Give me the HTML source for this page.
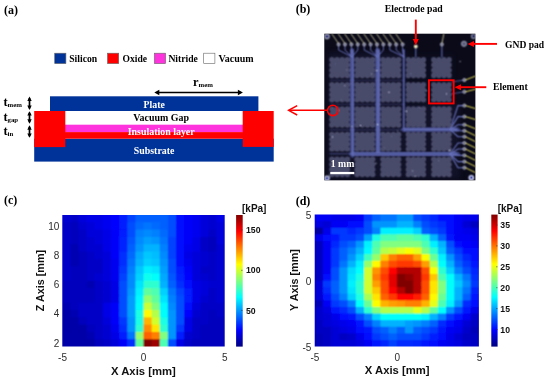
<!DOCTYPE html>
<html><head><meta charset="utf-8"><title>Figure</title>
<style>
html,body{margin:0;padding:0;background:#fff;}
body{width:550px;height:380px;overflow:hidden;}
svg{display:block;}
</style></head><body>
<svg width="550" height="380" viewBox="0 0 550 380">
<defs>
<filter id="hb" x="-5%" y="-5%" width="110%" height="110%"><feConvolveMatrix order="3" kernelMatrix="1 2 1 2 4 2 1 2 1" divisor="16" edgeMode="duplicate" preserveAlpha="true"/></filter>
<clipPath id="pc"><rect x="324.3" y="33.7" width="151.1" height="146.6"/></clipPath>
<filter id="bl" x="-5%" y="-5%" width="110%" height="110%"><feConvolveMatrix order="3" kernelMatrix="1 2 1 2 4 2 1 2 1" divisor="16" edgeMode="none" preserveAlpha="false"/></filter>
<filter id="bl2" x="-5%" y="-5%" width="110%" height="110%"><feGaussianBlur stdDeviation="2.5"/></filter>
<clipPath id="hc1"><rect x="62.30" y="215.00" width="162.40" height="131.60"/></clipPath>
<linearGradient id="cbc" x1="0" y1="0" x2="0" y2="1"><stop offset="0.0000" stop-color="#800000"/><stop offset="0.0312" stop-color="#9f0000"/><stop offset="0.0625" stop-color="#bf0000"/><stop offset="0.0938" stop-color="#df0000"/><stop offset="0.1250" stop-color="#ff0000"/><stop offset="0.1562" stop-color="#ff2000"/><stop offset="0.1875" stop-color="#ff4000"/><stop offset="0.2188" stop-color="#ff6000"/><stop offset="0.2500" stop-color="#ff8000"/><stop offset="0.2812" stop-color="#ff9f00"/><stop offset="0.3125" stop-color="#ffbf00"/><stop offset="0.3438" stop-color="#ffdf00"/><stop offset="0.3750" stop-color="#ffff00"/><stop offset="0.4062" stop-color="#dfff20"/><stop offset="0.4375" stop-color="#bfff40"/><stop offset="0.4688" stop-color="#9fff60"/><stop offset="0.5000" stop-color="#80ff80"/><stop offset="0.5312" stop-color="#60ff9f"/><stop offset="0.5625" stop-color="#40ffbf"/><stop offset="0.5938" stop-color="#20ffdf"/><stop offset="0.6250" stop-color="#00ffff"/><stop offset="0.6562" stop-color="#00dfff"/><stop offset="0.6875" stop-color="#00bfff"/><stop offset="0.7188" stop-color="#009fff"/><stop offset="0.7500" stop-color="#0080ff"/><stop offset="0.7812" stop-color="#0060ff"/><stop offset="0.8125" stop-color="#0040ff"/><stop offset="0.8438" stop-color="#0020ff"/><stop offset="0.8750" stop-color="#0000ff"/><stop offset="0.9062" stop-color="#0000df"/><stop offset="0.9375" stop-color="#0000bf"/><stop offset="0.9688" stop-color="#00009f"/><stop offset="1.0000" stop-color="#000080"/></linearGradient>
<clipPath id="hc2"><rect x="314.70" y="214.50" width="164.20" height="132.10"/></clipPath>
<linearGradient id="cbd" x1="0" y1="0" x2="0" y2="1"><stop offset="0.0000" stop-color="#800000"/><stop offset="0.0312" stop-color="#9f0000"/><stop offset="0.0625" stop-color="#bf0000"/><stop offset="0.0938" stop-color="#df0000"/><stop offset="0.1250" stop-color="#ff0000"/><stop offset="0.1562" stop-color="#ff2000"/><stop offset="0.1875" stop-color="#ff4000"/><stop offset="0.2188" stop-color="#ff6000"/><stop offset="0.2500" stop-color="#ff8000"/><stop offset="0.2812" stop-color="#ff9f00"/><stop offset="0.3125" stop-color="#ffbf00"/><stop offset="0.3438" stop-color="#ffdf00"/><stop offset="0.3750" stop-color="#ffff00"/><stop offset="0.4062" stop-color="#dfff20"/><stop offset="0.4375" stop-color="#bfff40"/><stop offset="0.4688" stop-color="#9fff60"/><stop offset="0.5000" stop-color="#80ff80"/><stop offset="0.5312" stop-color="#60ff9f"/><stop offset="0.5625" stop-color="#40ffbf"/><stop offset="0.5938" stop-color="#20ffdf"/><stop offset="0.6250" stop-color="#00ffff"/><stop offset="0.6562" stop-color="#00dfff"/><stop offset="0.6875" stop-color="#00bfff"/><stop offset="0.7188" stop-color="#009fff"/><stop offset="0.7500" stop-color="#0080ff"/><stop offset="0.7812" stop-color="#0060ff"/><stop offset="0.8125" stop-color="#0040ff"/><stop offset="0.8438" stop-color="#0020ff"/><stop offset="0.8750" stop-color="#0000ff"/><stop offset="0.9062" stop-color="#0000df"/><stop offset="0.9375" stop-color="#0000bf"/><stop offset="0.9688" stop-color="#00009f"/><stop offset="1.0000" stop-color="#000080"/></linearGradient>
</defs>
<rect x="0" y="0" width="550" height="380" fill="#ffffff"/>
<text x="4" y="14.2" style="font-family:'Liberation Serif',serif;font-weight:bold;font-size:12px" fill="#000">(a)</text>
<rect x="54.7" y="53.2" width="11.2" height="10.4" fill="#003399" stroke="#666" stroke-width="0.6"/><text x="69.2" y="61.8" textLength="28.0" lengthAdjust="spacingAndGlyphs" style="font-family:'Liberation Serif',serif;font-weight:bold;font-size:10.6px" fill="#000">Silicon</text>
<rect x="107.5" y="53.2" width="11.2" height="10.4" fill="#ff0000" stroke="#666" stroke-width="0.6"/><text x="122.6" y="61.8" textLength="24.5" lengthAdjust="spacingAndGlyphs" style="font-family:'Liberation Serif',serif;font-weight:bold;font-size:10.6px" fill="#000">Oxide</text>
<rect x="154.4" y="53.2" width="11.2" height="10.4" fill="#ff33dd" stroke="#666" stroke-width="0.6"/><text x="168.4" y="61.8" textLength="29.5" lengthAdjust="spacingAndGlyphs" style="font-family:'Liberation Serif',serif;font-weight:bold;font-size:10.6px" fill="#000">Nitride</text>
<rect x="203.7" y="53.2" width="11.2" height="10.4" fill="#ffffff" stroke="#666" stroke-width="0.6"/><text x="218.4" y="61.8" textLength="35.3" lengthAdjust="spacingAndGlyphs" style="font-family:'Liberation Serif',serif;font-weight:bold;font-size:10.6px" fill="#000">Vacuum</text>
<rect x="34.2" y="138.7" width="239.5" height="22.9" fill="#003399"/>
<rect x="50" y="96.3" width="208.4" height="14.7" fill="#003399"/>
<rect x="65" y="124.7" width="178" height="7.4" fill="#ff33dd"/>
<rect x="65" y="132.1" width="178" height="6.6" fill="#ff0000"/>
<rect x="34.2" y="111" width="31.1" height="36.1" fill="#ff0000"/>
<rect x="242.7" y="111" width="31" height="35.9" fill="#ff0000"/>
<text x="143.6" y="107.5" textLength="21.2" lengthAdjust="spacingAndGlyphs" style="font-family:'Liberation Serif',serif;font-weight:bold;font-size:10.6px" fill="#fff">Plate</text>
<text x="133.3" y="121.3" textLength="55.8" lengthAdjust="spacingAndGlyphs" style="font-family:'Liberation Serif',serif;font-weight:bold;font-size:10.6px" fill="#000">Vacuum Gap</text>
<text x="127.7" y="134.5" textLength="67" lengthAdjust="spacingAndGlyphs" style="font-family:'Liberation Serif',serif;font-weight:bold;font-size:10.6px" fill="#fff">Insulation layer</text>
<text x="133.8" y="153.5" textLength="40.6" lengthAdjust="spacingAndGlyphs" style="font-family:'Liberation Serif',serif;font-weight:bold;font-size:10.6px" fill="#fff">Substrate</text>
<path d="M29.5 98.1 L29.5 108.4" stroke="#000" stroke-width="1.7" fill="none"/><path d="M29.5 96.6 l-2.2 4.4 l4.4 0z" fill="#000"/><path d="M29.5 109.9 l-2.2 -4.4 l4.4 0z" fill="#000"/>
<path d="M29.5 112.7 L29.5 122.2" stroke="#000" stroke-width="1.7" fill="none"/><path d="M29.5 111.2 l-2.2 4.4 l4.4 0z" fill="#000"/><path d="M29.5 123.7 l-2.2 -4.4 l4.4 0z" fill="#000"/>
<path d="M29.5 126.8 L29.5 136.3" stroke="#000" stroke-width="1.7" fill="none"/><path d="M29.5 125.3 l-2.2 4.4 l4.4 0z" fill="#000"/><path d="M29.5 137.8 l-2.2 -4.4 l4.4 0z" fill="#000"/>
<text x="3.4" y="106.3" style="font-family:'Liberation Serif',serif;font-weight:bold;font-size:12.4px" fill="#000">t<tspan dy="1.0" style="font-size:6.8px">mem</tspan></text>
<text x="3.4" y="120.6" style="font-family:'Liberation Serif',serif;font-weight:bold;font-size:12.4px" fill="#000">t<tspan dy="1.0" style="font-size:6.8px">gap</tspan></text>
<text x="3.4" y="135.2" style="font-family:'Liberation Serif',serif;font-weight:bold;font-size:12.4px" fill="#000">t<tspan dy="1.0" style="font-size:6.8px">in</tspan></text>
<path d="M157 92.5 L240.5 92.5" stroke="#000" stroke-width="1.7" fill="none"/>
<path d="M154.3 92.5 l5 -2.7 l0 5.4z" fill="#000"/>
<path d="M242.9 92.5 l-5 -2.7 l0 5.4z" fill="#000"/>
<text x="193.0" y="86.0" style="font-family:'Liberation Serif',serif;font-weight:bold;font-size:12.4px" fill="#000">r<tspan dy="1.0" style="font-size:6.8px">mem</tspan></text>
<text x="295.7" y="13.3" style="font-family:'Liberation Serif',serif;font-weight:bold;font-size:12px" fill="#000">(b)</text>
<rect x="324.3" y="33.7" width="151.1" height="146.6" fill="#0a0a19"/>
<g clip-path="url(#pc)">
<g filter="url(#bl2)" fill="#20244a" opacity="0.32">
<rect x="328" y="52" width="78" height="127"/>
<rect x="404" y="104" width="56" height="75"/>
<rect x="404" y="54" width="50" height="52" opacity="0.35"/>
</g>
<g filter="url(#bl)">
<g stroke="#363d78" fill="none" stroke-linecap="round">
<path d="M352.1 50 L352.4 156" stroke-width="3.8"/>
<path d="M377.7 50 L378 154" stroke-width="4.4"/>
<path d="M403.8 50 L403.8 131" stroke-width="2.4" opacity="0.8"/>
<path d="M403 129.6 L458 129.6" stroke-width="4"/>
<path d="M351 154 L458 154" stroke-width="4"/>
</g>
<g stroke="#6670ba" fill="none" stroke-linecap="round">
<path d="M350.9 50 L351.2 155" stroke-width="0.8"/>
<path d="M352.2 50 L352.5 155" stroke-width="0.8"/>
<path d="M353.4 50 L353.7 155" stroke-width="0.8"/>
<path d="M376.1 50 L376.4 153" stroke-width="0.8"/>
<path d="M377.3 50 L377.6 153" stroke-width="0.8"/>
<path d="M378.4 50 L378.7 153" stroke-width="0.8"/>
<path d="M379.4 50 L379.7 153" stroke-width="0.8"/>
<path d="M403.8 50 L403.8 129" stroke-width="1.0"/>
<path d="M404 128.3 L457 128.3" stroke-width="0.9"/>
<path d="M352 152.7 L457 152.7" stroke-width="0.9"/>
<path d="M404 129.6 L457 129.6" stroke-width="0.9"/>
<path d="M352 154.0 L457 154.0" stroke-width="0.9"/>
<path d="M404 130.9 L457 130.9" stroke-width="0.9"/>
<path d="M352 155.3 L457 155.3" stroke-width="0.9"/>
<path d="M330 104.3 L404 104.3" stroke-width="1.2" opacity="0.25"/>
<path d="M330 80.3 L404 80.3" stroke-width="1.2" opacity="0.25"/>
<path d="M330 129.9 L404 129.9" stroke-width="1.4" opacity="0.35"/>
<path d="M330 153.8 L352 153.8" stroke-width="1.4" opacity="0.4"/>
<path d="M415.8 47 L415.8 57" stroke-width="1"/>
<path d="M441.9 46 L441.9 57" stroke-width="1"/>
<path d="M452 82.0 L464 80.0" stroke-width="0.9" opacity="0.8"/>
<path d="M452 93.8 L464 91.8" stroke-width="0.9" opacity="0.8"/>
<path d="M450 129.6 L458 105.6 L464 105.6" stroke-width="1.1"/>
<path d="M450 129.6 L458 116.6 L464 116.6" stroke-width="1.1"/>
<path d="M450 129.6 L458 124.8 L464 124.8" stroke-width="1.1"/>
<path d="M450 129.6 L458 130.8 L464 130.8" stroke-width="1.1"/>
<path d="M450 129.6 L458 136.7 L464 136.7" stroke-width="1.1"/>
<path d="M450 154 L458 143.0 L464 143.0" stroke-width="1.1"/>
<path d="M450 154 L458 149.0 L464 149.0" stroke-width="1.1"/>
<path d="M450 154 L458 155.4 L464 155.4" stroke-width="1.1"/>
<path d="M450 154 L458 161.6 L464 161.6" stroke-width="1.1"/>
<path d="M450 154 L458 167.7 L464 167.7" stroke-width="1.1"/>
<path d="M338.6 45 L338.6 50 L352.0 57" stroke-width="0.9"/>
<path d="M345.0 45 L345.0 50 L352.0 57" stroke-width="0.9"/>
<path d="M351.4 45 L351.4 50 L352.0 57" stroke-width="0.9"/>
<path d="M357.8 45 L357.8 50 L352.0 57" stroke-width="0.9"/>
<path d="M364.2 45 L364.2 50 L377.5 57" stroke-width="0.9"/>
<path d="M370.6 45 L370.6 50 L377.5 57" stroke-width="0.9"/>
<path d="M377.0 45 L377.0 50 L377.5 57" stroke-width="0.9"/>
<path d="M383.4 45 L383.4 50 L377.5 57" stroke-width="0.9"/>
<path d="M389.8 45 L389.8 50 L404.0 57" stroke-width="0.9"/>
<path d="M396.2 45 L396.2 50 L404.0 57" stroke-width="0.9"/>
<path d="M402.6 45 L402.6 50 L404.0 57" stroke-width="0.9"/>
</g>
<g fill="#494b6b"><rect x="331.0" y="58.9" width="17.3" height="17.4"/><ellipse cx="331.9" cy="59.8" rx="2.8" ry="2.8"/><ellipse cx="331.9" cy="65.0" rx="2.8" ry="2.8"/><ellipse cx="331.9" cy="70.2" rx="2.8" ry="2.8"/><ellipse cx="331.9" cy="75.4" rx="2.8" ry="2.8"/><ellipse cx="337.1" cy="59.8" rx="2.8" ry="2.8"/><ellipse cx="337.1" cy="75.4" rx="2.8" ry="2.8"/><ellipse cx="342.2" cy="59.8" rx="2.8" ry="2.8"/><ellipse cx="342.2" cy="75.4" rx="2.8" ry="2.8"/><ellipse cx="347.4" cy="59.8" rx="2.8" ry="2.8"/><ellipse cx="347.4" cy="65.0" rx="2.8" ry="2.8"/><ellipse cx="347.4" cy="70.2" rx="2.8" ry="2.8"/><ellipse cx="347.4" cy="75.4" rx="2.8" ry="2.8"/></g>
<g fill="#494b6b"><rect x="356.2" y="58.9" width="17.4" height="17.4"/><ellipse cx="357.1" cy="59.8" rx="2.8" ry="2.8"/><ellipse cx="357.1" cy="65.0" rx="2.8" ry="2.8"/><ellipse cx="357.1" cy="70.2" rx="2.8" ry="2.8"/><ellipse cx="357.1" cy="75.4" rx="2.8" ry="2.8"/><ellipse cx="362.3" cy="59.8" rx="2.8" ry="2.8"/><ellipse cx="362.3" cy="75.4" rx="2.8" ry="2.8"/><ellipse cx="367.5" cy="59.8" rx="2.8" ry="2.8"/><ellipse cx="367.5" cy="75.4" rx="2.8" ry="2.8"/><ellipse cx="372.7" cy="59.8" rx="2.8" ry="2.8"/><ellipse cx="372.7" cy="65.0" rx="2.8" ry="2.8"/><ellipse cx="372.7" cy="70.2" rx="2.8" ry="2.8"/><ellipse cx="372.7" cy="75.4" rx="2.8" ry="2.8"/></g>
<g fill="#494b6b"><rect x="382.1" y="58.9" width="17.4" height="17.4"/><ellipse cx="383.0" cy="59.8" rx="2.8" ry="2.8"/><ellipse cx="383.0" cy="65.0" rx="2.8" ry="2.8"/><ellipse cx="383.0" cy="70.2" rx="2.8" ry="2.8"/><ellipse cx="383.0" cy="75.4" rx="2.8" ry="2.8"/><ellipse cx="388.2" cy="59.8" rx="2.8" ry="2.8"/><ellipse cx="388.2" cy="75.4" rx="2.8" ry="2.8"/><ellipse cx="393.4" cy="59.8" rx="2.8" ry="2.8"/><ellipse cx="393.4" cy="75.4" rx="2.8" ry="2.8"/><ellipse cx="398.6" cy="59.8" rx="2.8" ry="2.8"/><ellipse cx="398.6" cy="65.0" rx="2.8" ry="2.8"/><ellipse cx="398.6" cy="70.2" rx="2.8" ry="2.8"/><ellipse cx="398.6" cy="75.4" rx="2.8" ry="2.8"/></g>
<g fill="#494b6b"><rect x="407.5" y="58.9" width="16.8" height="17.4"/><ellipse cx="408.3" cy="59.8" rx="2.7" ry="2.8"/><ellipse cx="408.3" cy="65.0" rx="2.7" ry="2.8"/><ellipse cx="408.3" cy="70.2" rx="2.7" ry="2.8"/><ellipse cx="408.3" cy="75.4" rx="2.7" ry="2.8"/><ellipse cx="413.4" cy="59.8" rx="2.7" ry="2.8"/><ellipse cx="413.4" cy="75.4" rx="2.7" ry="2.8"/><ellipse cx="418.4" cy="59.8" rx="2.7" ry="2.8"/><ellipse cx="418.4" cy="75.4" rx="2.7" ry="2.8"/><ellipse cx="423.5" cy="59.8" rx="2.7" ry="2.8"/><ellipse cx="423.5" cy="65.0" rx="2.7" ry="2.8"/><ellipse cx="423.5" cy="70.2" rx="2.7" ry="2.8"/><ellipse cx="423.5" cy="75.4" rx="2.7" ry="2.8"/></g>
<g fill="#494b6b"><rect x="433.0" y="58.9" width="16.9" height="17.4"/><ellipse cx="433.8" cy="59.8" rx="2.7" ry="2.8"/><ellipse cx="433.8" cy="65.0" rx="2.7" ry="2.8"/><ellipse cx="433.8" cy="70.2" rx="2.7" ry="2.8"/><ellipse cx="433.8" cy="75.4" rx="2.7" ry="2.8"/><ellipse cx="438.9" cy="59.8" rx="2.7" ry="2.8"/><ellipse cx="438.9" cy="75.4" rx="2.7" ry="2.8"/><ellipse cx="444.0" cy="59.8" rx="2.7" ry="2.8"/><ellipse cx="444.0" cy="75.4" rx="2.7" ry="2.8"/><ellipse cx="449.1" cy="59.8" rx="2.7" ry="2.8"/><ellipse cx="449.1" cy="65.0" rx="2.7" ry="2.8"/><ellipse cx="449.1" cy="70.2" rx="2.7" ry="2.8"/><ellipse cx="449.1" cy="75.4" rx="2.7" ry="2.8"/></g>
<g fill="#494b6b"><rect x="331.0" y="84.0" width="17.3" height="16.5"/><ellipse cx="331.9" cy="84.8" rx="2.8" ry="2.7"/><ellipse cx="331.9" cy="89.8" rx="2.8" ry="2.7"/><ellipse cx="331.9" cy="94.7" rx="2.8" ry="2.7"/><ellipse cx="331.9" cy="99.7" rx="2.8" ry="2.7"/><ellipse cx="337.1" cy="84.8" rx="2.8" ry="2.7"/><ellipse cx="337.1" cy="99.7" rx="2.8" ry="2.7"/><ellipse cx="342.2" cy="84.8" rx="2.8" ry="2.7"/><ellipse cx="342.2" cy="99.7" rx="2.8" ry="2.7"/><ellipse cx="347.4" cy="84.8" rx="2.8" ry="2.7"/><ellipse cx="347.4" cy="89.8" rx="2.8" ry="2.7"/><ellipse cx="347.4" cy="94.7" rx="2.8" ry="2.7"/><ellipse cx="347.4" cy="99.7" rx="2.8" ry="2.7"/></g>
<g fill="#494b6b"><rect x="356.2" y="84.0" width="17.4" height="16.5"/><ellipse cx="357.1" cy="84.8" rx="2.8" ry="2.7"/><ellipse cx="357.1" cy="89.8" rx="2.8" ry="2.7"/><ellipse cx="357.1" cy="94.7" rx="2.8" ry="2.7"/><ellipse cx="357.1" cy="99.7" rx="2.8" ry="2.7"/><ellipse cx="362.3" cy="84.8" rx="2.8" ry="2.7"/><ellipse cx="362.3" cy="99.7" rx="2.8" ry="2.7"/><ellipse cx="367.5" cy="84.8" rx="2.8" ry="2.7"/><ellipse cx="367.5" cy="99.7" rx="2.8" ry="2.7"/><ellipse cx="372.7" cy="84.8" rx="2.8" ry="2.7"/><ellipse cx="372.7" cy="89.8" rx="2.8" ry="2.7"/><ellipse cx="372.7" cy="94.7" rx="2.8" ry="2.7"/><ellipse cx="372.7" cy="99.7" rx="2.8" ry="2.7"/></g>
<g fill="#494b6b"><rect x="382.1" y="84.0" width="17.4" height="16.5"/><ellipse cx="383.0" cy="84.8" rx="2.8" ry="2.7"/><ellipse cx="383.0" cy="89.8" rx="2.8" ry="2.7"/><ellipse cx="383.0" cy="94.7" rx="2.8" ry="2.7"/><ellipse cx="383.0" cy="99.7" rx="2.8" ry="2.7"/><ellipse cx="388.2" cy="84.8" rx="2.8" ry="2.7"/><ellipse cx="388.2" cy="99.7" rx="2.8" ry="2.7"/><ellipse cx="393.4" cy="84.8" rx="2.8" ry="2.7"/><ellipse cx="393.4" cy="99.7" rx="2.8" ry="2.7"/><ellipse cx="398.6" cy="84.8" rx="2.8" ry="2.7"/><ellipse cx="398.6" cy="89.8" rx="2.8" ry="2.7"/><ellipse cx="398.6" cy="94.7" rx="2.8" ry="2.7"/><ellipse cx="398.6" cy="99.7" rx="2.8" ry="2.7"/></g>
<g fill="#494b6b"><rect x="407.5" y="84.0" width="16.8" height="16.5"/><ellipse cx="408.3" cy="84.8" rx="2.7" ry="2.7"/><ellipse cx="408.3" cy="89.8" rx="2.7" ry="2.7"/><ellipse cx="408.3" cy="94.7" rx="2.7" ry="2.7"/><ellipse cx="408.3" cy="99.7" rx="2.7" ry="2.7"/><ellipse cx="413.4" cy="84.8" rx="2.7" ry="2.7"/><ellipse cx="413.4" cy="99.7" rx="2.7" ry="2.7"/><ellipse cx="418.4" cy="84.8" rx="2.7" ry="2.7"/><ellipse cx="418.4" cy="99.7" rx="2.7" ry="2.7"/><ellipse cx="423.5" cy="84.8" rx="2.7" ry="2.7"/><ellipse cx="423.5" cy="89.8" rx="2.7" ry="2.7"/><ellipse cx="423.5" cy="94.7" rx="2.7" ry="2.7"/><ellipse cx="423.5" cy="99.7" rx="2.7" ry="2.7"/></g>
<g fill="#494b6b"><rect x="433.0" y="84.0" width="16.9" height="16.5"/><ellipse cx="433.8" cy="84.8" rx="2.7" ry="2.7"/><ellipse cx="433.8" cy="89.8" rx="2.7" ry="2.7"/><ellipse cx="433.8" cy="94.7" rx="2.7" ry="2.7"/><ellipse cx="433.8" cy="99.7" rx="2.7" ry="2.7"/><ellipse cx="438.9" cy="84.8" rx="2.7" ry="2.7"/><ellipse cx="438.9" cy="99.7" rx="2.7" ry="2.7"/><ellipse cx="444.0" cy="84.8" rx="2.7" ry="2.7"/><ellipse cx="444.0" cy="99.7" rx="2.7" ry="2.7"/><ellipse cx="449.1" cy="84.8" rx="2.7" ry="2.7"/><ellipse cx="449.1" cy="89.8" rx="2.7" ry="2.7"/><ellipse cx="449.1" cy="94.7" rx="2.7" ry="2.7"/><ellipse cx="449.1" cy="99.7" rx="2.7" ry="2.7"/></g>
<g fill="#494b6b"><rect x="331.0" y="108.2" width="17.3" height="17.6"/><ellipse cx="331.9" cy="109.1" rx="2.8" ry="2.8"/><ellipse cx="331.9" cy="114.4" rx="2.8" ry="2.8"/><ellipse cx="331.9" cy="119.6" rx="2.8" ry="2.8"/><ellipse cx="331.9" cy="124.9" rx="2.8" ry="2.8"/><ellipse cx="337.1" cy="109.1" rx="2.8" ry="2.8"/><ellipse cx="337.1" cy="124.9" rx="2.8" ry="2.8"/><ellipse cx="342.2" cy="109.1" rx="2.8" ry="2.8"/><ellipse cx="342.2" cy="124.9" rx="2.8" ry="2.8"/><ellipse cx="347.4" cy="109.1" rx="2.8" ry="2.8"/><ellipse cx="347.4" cy="114.4" rx="2.8" ry="2.8"/><ellipse cx="347.4" cy="119.6" rx="2.8" ry="2.8"/><ellipse cx="347.4" cy="124.9" rx="2.8" ry="2.8"/></g>
<g fill="#494b6b"><rect x="356.2" y="108.2" width="17.4" height="17.6"/><ellipse cx="357.1" cy="109.1" rx="2.8" ry="2.8"/><ellipse cx="357.1" cy="114.4" rx="2.8" ry="2.8"/><ellipse cx="357.1" cy="119.6" rx="2.8" ry="2.8"/><ellipse cx="357.1" cy="124.9" rx="2.8" ry="2.8"/><ellipse cx="362.3" cy="109.1" rx="2.8" ry="2.8"/><ellipse cx="362.3" cy="124.9" rx="2.8" ry="2.8"/><ellipse cx="367.5" cy="109.1" rx="2.8" ry="2.8"/><ellipse cx="367.5" cy="124.9" rx="2.8" ry="2.8"/><ellipse cx="372.7" cy="109.1" rx="2.8" ry="2.8"/><ellipse cx="372.7" cy="114.4" rx="2.8" ry="2.8"/><ellipse cx="372.7" cy="119.6" rx="2.8" ry="2.8"/><ellipse cx="372.7" cy="124.9" rx="2.8" ry="2.8"/></g>
<g fill="#494b6b"><rect x="382.1" y="108.2" width="17.4" height="17.6"/><ellipse cx="383.0" cy="109.1" rx="2.8" ry="2.8"/><ellipse cx="383.0" cy="114.4" rx="2.8" ry="2.8"/><ellipse cx="383.0" cy="119.6" rx="2.8" ry="2.8"/><ellipse cx="383.0" cy="124.9" rx="2.8" ry="2.8"/><ellipse cx="388.2" cy="109.1" rx="2.8" ry="2.8"/><ellipse cx="388.2" cy="124.9" rx="2.8" ry="2.8"/><ellipse cx="393.4" cy="109.1" rx="2.8" ry="2.8"/><ellipse cx="393.4" cy="124.9" rx="2.8" ry="2.8"/><ellipse cx="398.6" cy="109.1" rx="2.8" ry="2.8"/><ellipse cx="398.6" cy="114.4" rx="2.8" ry="2.8"/><ellipse cx="398.6" cy="119.6" rx="2.8" ry="2.8"/><ellipse cx="398.6" cy="124.9" rx="2.8" ry="2.8"/></g>
<g fill="#494b6b"><rect x="407.5" y="108.2" width="16.8" height="17.6"/><ellipse cx="408.3" cy="109.1" rx="2.7" ry="2.8"/><ellipse cx="408.3" cy="114.4" rx="2.7" ry="2.8"/><ellipse cx="408.3" cy="119.6" rx="2.7" ry="2.8"/><ellipse cx="408.3" cy="124.9" rx="2.7" ry="2.8"/><ellipse cx="413.4" cy="109.1" rx="2.7" ry="2.8"/><ellipse cx="413.4" cy="124.9" rx="2.7" ry="2.8"/><ellipse cx="418.4" cy="109.1" rx="2.7" ry="2.8"/><ellipse cx="418.4" cy="124.9" rx="2.7" ry="2.8"/><ellipse cx="423.5" cy="109.1" rx="2.7" ry="2.8"/><ellipse cx="423.5" cy="114.4" rx="2.7" ry="2.8"/><ellipse cx="423.5" cy="119.6" rx="2.7" ry="2.8"/><ellipse cx="423.5" cy="124.9" rx="2.7" ry="2.8"/></g>
<g fill="#494b6b"><rect x="433.0" y="108.2" width="16.9" height="17.6"/><ellipse cx="433.8" cy="109.1" rx="2.7" ry="2.8"/><ellipse cx="433.8" cy="114.4" rx="2.7" ry="2.8"/><ellipse cx="433.8" cy="119.6" rx="2.7" ry="2.8"/><ellipse cx="433.8" cy="124.9" rx="2.7" ry="2.8"/><ellipse cx="438.9" cy="109.1" rx="2.7" ry="2.8"/><ellipse cx="438.9" cy="124.9" rx="2.7" ry="2.8"/><ellipse cx="444.0" cy="109.1" rx="2.7" ry="2.8"/><ellipse cx="444.0" cy="124.9" rx="2.7" ry="2.8"/><ellipse cx="449.1" cy="109.1" rx="2.7" ry="2.8"/><ellipse cx="449.1" cy="114.4" rx="2.7" ry="2.8"/><ellipse cx="449.1" cy="119.6" rx="2.7" ry="2.8"/><ellipse cx="449.1" cy="124.9" rx="2.7" ry="2.8"/></g>
<g fill="#494b6b"><rect x="331.0" y="133.7" width="17.3" height="16.0"/><ellipse cx="331.9" cy="134.4" rx="2.8" ry="2.6"/><ellipse cx="331.9" cy="139.3" rx="2.8" ry="2.6"/><ellipse cx="331.9" cy="144.1" rx="2.8" ry="2.6"/><ellipse cx="331.9" cy="149.0" rx="2.8" ry="2.6"/><ellipse cx="337.1" cy="134.4" rx="2.8" ry="2.6"/><ellipse cx="337.1" cy="149.0" rx="2.8" ry="2.6"/><ellipse cx="342.2" cy="134.4" rx="2.8" ry="2.6"/><ellipse cx="342.2" cy="149.0" rx="2.8" ry="2.6"/><ellipse cx="347.4" cy="134.4" rx="2.8" ry="2.6"/><ellipse cx="347.4" cy="139.3" rx="2.8" ry="2.6"/><ellipse cx="347.4" cy="144.1" rx="2.8" ry="2.6"/><ellipse cx="347.4" cy="149.0" rx="2.8" ry="2.6"/></g>
<g fill="#494b6b"><rect x="356.2" y="133.7" width="17.4" height="16.0"/><ellipse cx="357.1" cy="134.4" rx="2.8" ry="2.6"/><ellipse cx="357.1" cy="139.3" rx="2.8" ry="2.6"/><ellipse cx="357.1" cy="144.1" rx="2.8" ry="2.6"/><ellipse cx="357.1" cy="149.0" rx="2.8" ry="2.6"/><ellipse cx="362.3" cy="134.4" rx="2.8" ry="2.6"/><ellipse cx="362.3" cy="149.0" rx="2.8" ry="2.6"/><ellipse cx="367.5" cy="134.4" rx="2.8" ry="2.6"/><ellipse cx="367.5" cy="149.0" rx="2.8" ry="2.6"/><ellipse cx="372.7" cy="134.4" rx="2.8" ry="2.6"/><ellipse cx="372.7" cy="139.3" rx="2.8" ry="2.6"/><ellipse cx="372.7" cy="144.1" rx="2.8" ry="2.6"/><ellipse cx="372.7" cy="149.0" rx="2.8" ry="2.6"/></g>
<g fill="#494b6b"><rect x="382.1" y="133.7" width="17.4" height="16.0"/><ellipse cx="383.0" cy="134.4" rx="2.8" ry="2.6"/><ellipse cx="383.0" cy="139.3" rx="2.8" ry="2.6"/><ellipse cx="383.0" cy="144.1" rx="2.8" ry="2.6"/><ellipse cx="383.0" cy="149.0" rx="2.8" ry="2.6"/><ellipse cx="388.2" cy="134.4" rx="2.8" ry="2.6"/><ellipse cx="388.2" cy="149.0" rx="2.8" ry="2.6"/><ellipse cx="393.4" cy="134.4" rx="2.8" ry="2.6"/><ellipse cx="393.4" cy="149.0" rx="2.8" ry="2.6"/><ellipse cx="398.6" cy="134.4" rx="2.8" ry="2.6"/><ellipse cx="398.6" cy="139.3" rx="2.8" ry="2.6"/><ellipse cx="398.6" cy="144.1" rx="2.8" ry="2.6"/><ellipse cx="398.6" cy="149.0" rx="2.8" ry="2.6"/></g>
<g fill="#494b6b"><rect x="407.5" y="133.7" width="16.8" height="16.0"/><ellipse cx="408.3" cy="134.4" rx="2.7" ry="2.6"/><ellipse cx="408.3" cy="139.3" rx="2.7" ry="2.6"/><ellipse cx="408.3" cy="144.1" rx="2.7" ry="2.6"/><ellipse cx="408.3" cy="149.0" rx="2.7" ry="2.6"/><ellipse cx="413.4" cy="134.4" rx="2.7" ry="2.6"/><ellipse cx="413.4" cy="149.0" rx="2.7" ry="2.6"/><ellipse cx="418.4" cy="134.4" rx="2.7" ry="2.6"/><ellipse cx="418.4" cy="149.0" rx="2.7" ry="2.6"/><ellipse cx="423.5" cy="134.4" rx="2.7" ry="2.6"/><ellipse cx="423.5" cy="139.3" rx="2.7" ry="2.6"/><ellipse cx="423.5" cy="144.1" rx="2.7" ry="2.6"/><ellipse cx="423.5" cy="149.0" rx="2.7" ry="2.6"/></g>
<g fill="#494b6b"><rect x="433.0" y="133.7" width="16.9" height="16.0"/><ellipse cx="433.8" cy="134.4" rx="2.7" ry="2.6"/><ellipse cx="433.8" cy="139.3" rx="2.7" ry="2.6"/><ellipse cx="433.8" cy="144.1" rx="2.7" ry="2.6"/><ellipse cx="433.8" cy="149.0" rx="2.7" ry="2.6"/><ellipse cx="438.9" cy="134.4" rx="2.7" ry="2.6"/><ellipse cx="438.9" cy="149.0" rx="2.7" ry="2.6"/><ellipse cx="444.0" cy="134.4" rx="2.7" ry="2.6"/><ellipse cx="444.0" cy="149.0" rx="2.7" ry="2.6"/><ellipse cx="449.1" cy="134.4" rx="2.7" ry="2.6"/><ellipse cx="449.1" cy="139.3" rx="2.7" ry="2.6"/><ellipse cx="449.1" cy="144.1" rx="2.7" ry="2.6"/><ellipse cx="449.1" cy="149.0" rx="2.7" ry="2.6"/></g>
<g fill="#494b6b"><rect x="331.0" y="158.5" width="17.3" height="16.8"/><ellipse cx="331.9" cy="159.3" rx="2.8" ry="2.7"/><ellipse cx="331.9" cy="164.4" rx="2.8" ry="2.7"/><ellipse cx="331.9" cy="169.4" rx="2.8" ry="2.7"/><ellipse cx="331.9" cy="174.5" rx="2.8" ry="2.7"/><ellipse cx="337.1" cy="159.3" rx="2.8" ry="2.7"/><ellipse cx="337.1" cy="174.5" rx="2.8" ry="2.7"/><ellipse cx="342.2" cy="159.3" rx="2.8" ry="2.7"/><ellipse cx="342.2" cy="174.5" rx="2.8" ry="2.7"/><ellipse cx="347.4" cy="159.3" rx="2.8" ry="2.7"/><ellipse cx="347.4" cy="164.4" rx="2.8" ry="2.7"/><ellipse cx="347.4" cy="169.4" rx="2.8" ry="2.7"/><ellipse cx="347.4" cy="174.5" rx="2.8" ry="2.7"/></g>
<g fill="#494b6b"><rect x="356.2" y="158.5" width="17.4" height="16.8"/><ellipse cx="357.1" cy="159.3" rx="2.8" ry="2.7"/><ellipse cx="357.1" cy="164.4" rx="2.8" ry="2.7"/><ellipse cx="357.1" cy="169.4" rx="2.8" ry="2.7"/><ellipse cx="357.1" cy="174.5" rx="2.8" ry="2.7"/><ellipse cx="362.3" cy="159.3" rx="2.8" ry="2.7"/><ellipse cx="362.3" cy="174.5" rx="2.8" ry="2.7"/><ellipse cx="367.5" cy="159.3" rx="2.8" ry="2.7"/><ellipse cx="367.5" cy="174.5" rx="2.8" ry="2.7"/><ellipse cx="372.7" cy="159.3" rx="2.8" ry="2.7"/><ellipse cx="372.7" cy="164.4" rx="2.8" ry="2.7"/><ellipse cx="372.7" cy="169.4" rx="2.8" ry="2.7"/><ellipse cx="372.7" cy="174.5" rx="2.8" ry="2.7"/></g>
<g fill="#494b6b"><rect x="382.1" y="158.5" width="17.4" height="16.8"/><ellipse cx="383.0" cy="159.3" rx="2.8" ry="2.7"/><ellipse cx="383.0" cy="164.4" rx="2.8" ry="2.7"/><ellipse cx="383.0" cy="169.4" rx="2.8" ry="2.7"/><ellipse cx="383.0" cy="174.5" rx="2.8" ry="2.7"/><ellipse cx="388.2" cy="159.3" rx="2.8" ry="2.7"/><ellipse cx="388.2" cy="174.5" rx="2.8" ry="2.7"/><ellipse cx="393.4" cy="159.3" rx="2.8" ry="2.7"/><ellipse cx="393.4" cy="174.5" rx="2.8" ry="2.7"/><ellipse cx="398.6" cy="159.3" rx="2.8" ry="2.7"/><ellipse cx="398.6" cy="164.4" rx="2.8" ry="2.7"/><ellipse cx="398.6" cy="169.4" rx="2.8" ry="2.7"/><ellipse cx="398.6" cy="174.5" rx="2.8" ry="2.7"/></g>
<g fill="#494b6b"><rect x="407.5" y="158.5" width="16.8" height="16.8"/><ellipse cx="408.3" cy="159.3" rx="2.7" ry="2.7"/><ellipse cx="408.3" cy="164.4" rx="2.7" ry="2.7"/><ellipse cx="408.3" cy="169.4" rx="2.7" ry="2.7"/><ellipse cx="408.3" cy="174.5" rx="2.7" ry="2.7"/><ellipse cx="413.4" cy="159.3" rx="2.7" ry="2.7"/><ellipse cx="413.4" cy="174.5" rx="2.7" ry="2.7"/><ellipse cx="418.4" cy="159.3" rx="2.7" ry="2.7"/><ellipse cx="418.4" cy="174.5" rx="2.7" ry="2.7"/><ellipse cx="423.5" cy="159.3" rx="2.7" ry="2.7"/><ellipse cx="423.5" cy="164.4" rx="2.7" ry="2.7"/><ellipse cx="423.5" cy="169.4" rx="2.7" ry="2.7"/><ellipse cx="423.5" cy="174.5" rx="2.7" ry="2.7"/></g>
<g fill="#494b6b"><rect x="433.0" y="158.5" width="16.9" height="16.8"/><ellipse cx="433.8" cy="159.3" rx="2.7" ry="2.7"/><ellipse cx="433.8" cy="164.4" rx="2.7" ry="2.7"/><ellipse cx="433.8" cy="169.4" rx="2.7" ry="2.7"/><ellipse cx="433.8" cy="174.5" rx="2.7" ry="2.7"/><ellipse cx="438.9" cy="159.3" rx="2.7" ry="2.7"/><ellipse cx="438.9" cy="174.5" rx="2.7" ry="2.7"/><ellipse cx="444.0" cy="159.3" rx="2.7" ry="2.7"/><ellipse cx="444.0" cy="174.5" rx="2.7" ry="2.7"/><ellipse cx="449.1" cy="159.3" rx="2.7" ry="2.7"/><ellipse cx="449.1" cy="164.4" rx="2.7" ry="2.7"/><ellipse cx="449.1" cy="169.4" rx="2.7" ry="2.7"/><ellipse cx="449.1" cy="174.5" rx="2.7" ry="2.7"/></g>
<circle cx="338.6" cy="44.4" r="1.5" fill="#55587a" stroke="#b4b6cc" stroke-width="1"/>
<circle cx="345.0" cy="44.4" r="1.5" fill="#55587a" stroke="#b4b6cc" stroke-width="1"/>
<circle cx="351.4" cy="44.4" r="1.5" fill="#55587a" stroke="#b4b6cc" stroke-width="1"/>
<circle cx="357.8" cy="44.4" r="1.5" fill="#55587a" stroke="#b4b6cc" stroke-width="1"/>
<circle cx="364.2" cy="44.4" r="1.5" fill="#55587a" stroke="#b4b6cc" stroke-width="1"/>
<circle cx="370.6" cy="44.4" r="1.5" fill="#55587a" stroke="#b4b6cc" stroke-width="1"/>
<circle cx="377.0" cy="44.4" r="1.5" fill="#55587a" stroke="#b4b6cc" stroke-width="1"/>
<circle cx="383.4" cy="44.4" r="1.5" fill="#55587a" stroke="#b4b6cc" stroke-width="1"/>
<circle cx="389.8" cy="44.4" r="1.5" fill="#55587a" stroke="#b4b6cc" stroke-width="1"/>
<circle cx="396.2" cy="44.4" r="1.5" fill="#55587a" stroke="#b4b6cc" stroke-width="1"/>
<circle cx="402.6" cy="44.4" r="1.5" fill="#55587a" stroke="#b4b6cc" stroke-width="1"/>
<circle cx="441.9" cy="44.4" r="1.5" fill="#55587a" stroke="#b4b6cc" stroke-width="1"/>
<circle cx="415.8" cy="46.4" r="1.9" fill="#e8e4c0"/>
<path d="M338.6 43.6 L331.6 33.5" stroke="#d8d49c" stroke-width="0.8" fill="none"/>
<path d="M345.0 43.6 L338.0 33.5" stroke="#d8d49c" stroke-width="0.8" fill="none"/>
<path d="M351.4 43.6 L344.4 33.5" stroke="#d8d49c" stroke-width="0.8" fill="none"/>
<path d="M357.8 43.6 L350.8 33.5" stroke="#d8d49c" stroke-width="0.8" fill="none"/>
<path d="M364.2 43.6 L357.2 33.5" stroke="#d8d49c" stroke-width="0.8" fill="none"/>
<path d="M370.6 43.6 L363.6 33.5" stroke="#d8d49c" stroke-width="0.8" fill="none"/>
<path d="M377.0 43.6 L370.0 33.5" stroke="#d8d49c" stroke-width="0.8" fill="none"/>
<path d="M383.4 43.6 L376.4 33.5" stroke="#d8d49c" stroke-width="0.8" fill="none"/>
<path d="M389.8 43.6 L382.8 33.5" stroke="#d8d49c" stroke-width="0.8" fill="none"/>
<path d="M396.2 43.6 L389.2 33.5" stroke="#d8d49c" stroke-width="0.8" fill="none"/>
<path d="M402.6 43.6 L395.6 33.5" stroke="#d8d49c" stroke-width="0.8" fill="none"/>
<path d="M441.9 43.5 L443.9 33.5" stroke="#d8d49c" stroke-width="0.8"/>
<circle cx="464.4" cy="80.0" r="1.5" fill="#55587a" stroke="#b4b6cc" stroke-width="1"/>
<path d="M465.4 80.0 L475.6 76.0" stroke="#dcd650" stroke-width="1.0"/>
<circle cx="464.4" cy="91.8" r="1.5" fill="#55587a" stroke="#b4b6cc" stroke-width="1"/>
<path d="M465.4 91.8 L475.6 89.2" stroke="#dcd650" stroke-width="1.0"/>
<circle cx="464.4" cy="105.6" r="1.5" fill="#55587a" stroke="#b4b6cc" stroke-width="1"/>
<path d="M465.4 105.6 L475.6 108.6" stroke="#dcd650" stroke-width="1.0"/>
<circle cx="464.4" cy="116.6" r="1.5" fill="#55587a" stroke="#b4b6cc" stroke-width="1"/>
<path d="M465.4 116.6 L475.6 119.6" stroke="#dcd650" stroke-width="1.0"/>
<circle cx="464.4" cy="124.8" r="1.5" fill="#55587a" stroke="#b4b6cc" stroke-width="1"/>
<path d="M465.4 124.8 L475.6 128.8" stroke="#dcd650" stroke-width="1.0"/>
<circle cx="464.4" cy="130.8" r="1.5" fill="#55587a" stroke="#b4b6cc" stroke-width="1"/>
<path d="M465.4 130.8 L475.6 135.8" stroke="#dcd650" stroke-width="1.0"/>
<circle cx="464.4" cy="136.7" r="1.5" fill="#55587a" stroke="#b4b6cc" stroke-width="1"/>
<path d="M465.4 136.7 L475.6 141.7" stroke="#dcd650" stroke-width="1.0"/>
<circle cx="464.4" cy="143.0" r="1.5" fill="#55587a" stroke="#b4b6cc" stroke-width="1"/>
<path d="M465.4 143.0 L475.6 148.0" stroke="#dcd650" stroke-width="1.0"/>
<circle cx="464.4" cy="149.0" r="1.5" fill="#55587a" stroke="#b4b6cc" stroke-width="1"/>
<path d="M465.4 149.0 L475.6 154.0" stroke="#dcd650" stroke-width="1.0"/>
<circle cx="464.4" cy="155.4" r="1.5" fill="#55587a" stroke="#b4b6cc" stroke-width="1"/>
<path d="M465.4 155.4 L475.6 160.4" stroke="#dcd650" stroke-width="1.0"/>
<circle cx="464.4" cy="161.6" r="1.5" fill="#55587a" stroke="#b4b6cc" stroke-width="1"/>
<path d="M465.4 161.6 L475.6 166.6" stroke="#dcd650" stroke-width="1.0"/>
<circle cx="464.4" cy="167.7" r="1.5" fill="#55587a" stroke="#b4b6cc" stroke-width="1"/>
<path d="M465.4 167.7 L475.6 172.7" stroke="#dcd650" stroke-width="1.0"/>
<circle cx="464" cy="43.8" r="2.6" fill="#5a5d78" stroke="#a0a3be" stroke-width="0.9"/>
<circle cx="327.0" cy="36.4" r="2.2" fill="#2830a0" stroke="#dfe3ff" stroke-width="1.2" opacity="0.70"/>
<circle cx="473.6" cy="36.2" r="2.2" fill="#2830a0" stroke="#dfe3ff" stroke-width="1.2" opacity="0.55"/>
<circle cx="327.0" cy="178.2" r="2.2" fill="#2830a0" stroke="#dfe3ff" stroke-width="1.2" opacity="0.95"/>
<circle cx="471.3" cy="177.7" r="2.2" fill="#2830a0" stroke="#dfe3ff" stroke-width="1.2" opacity="1.00"/>
<circle cx="371.4" cy="74.0" r="0.63" fill="#d0d4f4" opacity="0.44"/>
<circle cx="400.2" cy="100.2" r="0.33" fill="#d0d4f4" opacity="0.68"/>
<circle cx="332.4" cy="108.4" r="0.33" fill="#d0d4f4" opacity="0.45"/>
<circle cx="385.1" cy="156.2" r="0.36" fill="#d0d4f4" opacity="0.52"/>
<circle cx="412.7" cy="170.9" r="0.59" fill="#d0d4f4" opacity="0.62"/>
<circle cx="460.2" cy="61.4" r="0.73" fill="#d0d4f4" opacity="0.56"/>
<circle cx="346.9" cy="70.0" r="0.45" fill="#d0d4f4" opacity="0.85"/>
<circle cx="351.9" cy="126.4" r="0.62" fill="#d0d4f4" opacity="0.60"/>
<circle cx="401.8" cy="63.3" r="0.33" fill="#d0d4f4" opacity="0.51"/>
<circle cx="419.9" cy="107.7" r="0.46" fill="#d0d4f4" opacity="0.72"/>
<circle cx="389.0" cy="92.2" r="0.70" fill="#d0d4f4" opacity="0.78"/>
<circle cx="360.5" cy="125.5" r="0.56" fill="#d0d4f4" opacity="0.88"/>
<circle cx="426.6" cy="90.7" r="0.79" fill="#d0d4f4" opacity="0.46"/>
<circle cx="384.2" cy="147.8" r="0.38" fill="#d0d4f4" opacity="0.67"/>
<circle cx="332.6" cy="137.0" r="0.68" fill="#d0d4f4" opacity="0.72"/>
<circle cx="446.5" cy="93.9" r="0.65" fill="#d0d4f4" opacity="0.73"/>
<circle cx="406.2" cy="111.2" r="0.72" fill="#d0d4f4" opacity="0.92"/>
<circle cx="391.8" cy="136.5" r="0.33" fill="#d0d4f4" opacity="0.79"/>
<circle cx="415.4" cy="176.5" r="0.71" fill="#d0d4f4" opacity="0.56"/>
<circle cx="379.8" cy="137.0" r="0.31" fill="#d0d4f4" opacity="0.65"/>
<circle cx="350.2" cy="69.9" r="0.33" fill="#d0d4f4" opacity="0.82"/>
<circle cx="344.9" cy="85.8" r="0.50" fill="#d0d4f4" opacity="0.88"/>
<circle cx="338.3" cy="110.3" r="0.57" fill="#d0d4f4" opacity="0.89"/>
<circle cx="438.8" cy="160.8" r="0.44" fill="#d0d4f4" opacity="0.63"/>
<circle cx="376.1" cy="163.2" r="0.78" fill="#d0d4f4" opacity="0.48"/>
<circle cx="351.3" cy="83.9" r="0.42" fill="#d0d4f4" opacity="0.67"/>
<circle cx="407.5" cy="87.6" r="0.30" fill="#d0d4f4" opacity="0.63"/>
<circle cx="377.6" cy="124.6" r="0.78" fill="#d0d4f4" opacity="0.78"/>
<circle cx="397.5" cy="130.8" r="0.64" fill="#d0d4f4" opacity="0.43"/>
<circle cx="449.7" cy="150.5" r="0.74" fill="#d0d4f4" opacity="0.84"/>
<circle cx="380.7" cy="104.2" r="0.35" fill="#d0d4f4" opacity="0.75"/>
<circle cx="335.8" cy="63.9" r="0.40" fill="#d0d4f4" opacity="0.49"/>
<circle cx="373.6" cy="62.1" r="0.30" fill="#d0d4f4" opacity="0.48"/>
<circle cx="341.1" cy="99.9" r="0.31" fill="#d0d4f4" opacity="0.88"/>
<circle cx="410.9" cy="73.8" r="0.43" fill="#d0d4f4" opacity="0.59"/>
<circle cx="376.9" cy="70.6" r="0.72" fill="#d0d4f4" opacity="0.95"/>
</g>
</g>
<text x="330.7" y="167.2" textLength="23.6" lengthAdjust="spacingAndGlyphs" style="font-family:'Liberation Serif',serif;font-weight:bold;font-size:10.2px" fill="#fff">1 mm</text>
<rect x="330.3" y="171.9" width="24" height="2.3" fill="#fff"/>
<g stroke="#ff0000" fill="none" stroke-width="1.9">
<rect x="428.95" y="80.25" width="24.7" height="23.2" />
<circle cx="332.8" cy="110.4" r="5.2" stroke-width="1.6"/>
<path d="M327.6 110.3 L289.4 110.3" stroke-width="1.5"/>
<path d="M297.2 105.6 L288.6 110.3 L297.2 115" stroke-width="1.5"/>
<path d="M415.8 19.6 L415.8 40"/>
<path d="M497 43.9 L473 43.9"/>
<path d="M486.3 87.2 L459 87.2"/>
</g>
<g fill="#ff0000">
<path d="M415.8 45.6 l-3 -6.6 l6 0z"/>
<path d="M467.6 43.9 l6.4 -3 l0 6z"/>
<path d="M454.6 87.2 l6.4 -3 l0 6z"/>
</g>
<text x="384.7" y="11.6" textLength="58" lengthAdjust="spacingAndGlyphs" style="font-family:'Liberation Serif',serif;font-weight:bold;font-size:10.2px" fill="#000">Electrode pad</text>
<text x="505.1" y="47.8" textLength="39.1" lengthAdjust="spacingAndGlyphs" style="font-family:'Liberation Serif',serif;font-weight:bold;font-size:10.2px" fill="#000">GND pad</text>
<text x="493" y="90.3" textLength="34.7" lengthAdjust="spacingAndGlyphs" style="font-family:'Liberation Serif',serif;font-weight:bold;font-size:10.2px" fill="#000">Element</text>
<text x="3.9" y="204.2" style="font-family:'Liberation Serif',serif;font-weight:bold;font-size:12px" fill="#000">(c)</text>
<g clip-path="url(#hc1)"><g filter="url(#hb)">
<rect x="59.30" y="212.00" width="12.12" height="11.31" fill="#0000d1"/>
<rect x="70.42" y="212.00" width="9.12" height="11.31" fill="#0000c7"/>
<rect x="78.54" y="212.00" width="9.12" height="11.31" fill="#0000db"/>
<rect x="86.66" y="212.00" width="9.12" height="11.31" fill="#0000e6"/>
<rect x="94.78" y="212.00" width="9.12" height="11.31" fill="#0000e6"/>
<rect x="102.90" y="212.00" width="9.12" height="11.31" fill="#0000f0"/>
<rect x="111.02" y="212.00" width="9.12" height="11.31" fill="#0005ff"/>
<rect x="119.14" y="212.00" width="9.12" height="11.31" fill="#001aff"/>
<rect x="127.26" y="212.00" width="9.12" height="11.31" fill="#0042ff"/>
<rect x="135.38" y="212.00" width="9.12" height="11.31" fill="#0061ff"/>
<rect x="143.50" y="212.00" width="9.12" height="11.31" fill="#0061ff"/>
<rect x="151.62" y="212.00" width="9.12" height="11.31" fill="#0061ff"/>
<rect x="159.74" y="212.00" width="9.12" height="11.31" fill="#0061ff"/>
<rect x="167.86" y="212.00" width="9.12" height="11.31" fill="#004dff"/>
<rect x="175.98" y="212.00" width="9.12" height="11.31" fill="#000fff"/>
<rect x="184.10" y="212.00" width="9.12" height="11.31" fill="#0000fa"/>
<rect x="192.22" y="212.00" width="9.12" height="11.31" fill="#0000f0"/>
<rect x="200.34" y="212.00" width="9.12" height="11.31" fill="#0000db"/>
<rect x="208.46" y="212.00" width="9.12" height="11.31" fill="#0000d1"/>
<rect x="216.58" y="212.00" width="12.12" height="11.31" fill="#0000e6"/>
<rect x="59.30" y="222.31" width="12.12" height="8.31" fill="#0000c7"/>
<rect x="70.42" y="222.31" width="9.12" height="8.31" fill="#0000bd"/>
<rect x="78.54" y="222.31" width="9.12" height="8.31" fill="#0000d1"/>
<rect x="86.66" y="222.31" width="9.12" height="8.31" fill="#0000db"/>
<rect x="94.78" y="222.31" width="9.12" height="8.31" fill="#0000e6"/>
<rect x="102.90" y="222.31" width="9.12" height="8.31" fill="#0000f0"/>
<rect x="111.02" y="222.31" width="9.12" height="8.31" fill="#0005ff"/>
<rect x="119.14" y="222.31" width="9.12" height="8.31" fill="#001aff"/>
<rect x="127.26" y="222.31" width="9.12" height="8.31" fill="#004dff"/>
<rect x="135.38" y="222.31" width="9.12" height="8.31" fill="#006bff"/>
<rect x="143.50" y="222.31" width="9.12" height="8.31" fill="#0075ff"/>
<rect x="151.62" y="222.31" width="9.12" height="8.31" fill="#006bff"/>
<rect x="159.74" y="222.31" width="9.12" height="8.31" fill="#0061ff"/>
<rect x="167.86" y="222.31" width="9.12" height="8.31" fill="#004dff"/>
<rect x="175.98" y="222.31" width="9.12" height="8.31" fill="#000fff"/>
<rect x="184.10" y="222.31" width="9.12" height="8.31" fill="#0000fa"/>
<rect x="192.22" y="222.31" width="9.12" height="8.31" fill="#0000f0"/>
<rect x="200.34" y="222.31" width="9.12" height="8.31" fill="#0000db"/>
<rect x="208.46" y="222.31" width="9.12" height="8.31" fill="#0000d1"/>
<rect x="216.58" y="222.31" width="12.12" height="8.31" fill="#0000db"/>
<rect x="59.30" y="229.62" width="12.12" height="8.31" fill="#0000c7"/>
<rect x="70.42" y="229.62" width="9.12" height="8.31" fill="#0000bd"/>
<rect x="78.54" y="229.62" width="9.12" height="8.31" fill="#0000c7"/>
<rect x="86.66" y="229.62" width="9.12" height="8.31" fill="#0000db"/>
<rect x="94.78" y="229.62" width="9.12" height="8.31" fill="#0000db"/>
<rect x="102.90" y="229.62" width="9.12" height="8.31" fill="#0000e6"/>
<rect x="111.02" y="229.62" width="9.12" height="8.31" fill="#0000fa"/>
<rect x="119.14" y="229.62" width="9.12" height="8.31" fill="#001aff"/>
<rect x="127.26" y="229.62" width="9.12" height="8.31" fill="#004dff"/>
<rect x="135.38" y="229.62" width="9.12" height="8.31" fill="#0080ff"/>
<rect x="143.50" y="229.62" width="9.12" height="8.31" fill="#008aff"/>
<rect x="151.62" y="229.62" width="9.12" height="8.31" fill="#0080ff"/>
<rect x="159.74" y="229.62" width="9.12" height="8.31" fill="#006bff"/>
<rect x="167.86" y="229.62" width="9.12" height="8.31" fill="#004dff"/>
<rect x="175.98" y="229.62" width="9.12" height="8.31" fill="#000fff"/>
<rect x="184.10" y="229.62" width="9.12" height="8.31" fill="#0000fa"/>
<rect x="192.22" y="229.62" width="9.12" height="8.31" fill="#0000f0"/>
<rect x="200.34" y="229.62" width="9.12" height="8.31" fill="#0000db"/>
<rect x="208.46" y="229.62" width="9.12" height="8.31" fill="#0000c7"/>
<rect x="216.58" y="229.62" width="12.12" height="8.31" fill="#0000db"/>
<rect x="59.30" y="236.93" width="12.12" height="8.31" fill="#0000c7"/>
<rect x="70.42" y="236.93" width="9.12" height="8.31" fill="#0000bd"/>
<rect x="78.54" y="236.93" width="9.12" height="8.31" fill="#0000c7"/>
<rect x="86.66" y="236.93" width="9.12" height="8.31" fill="#0000d1"/>
<rect x="94.78" y="236.93" width="9.12" height="8.31" fill="#0000db"/>
<rect x="102.90" y="236.93" width="9.12" height="8.31" fill="#0000e6"/>
<rect x="111.02" y="236.93" width="9.12" height="8.31" fill="#0000fa"/>
<rect x="119.14" y="236.93" width="9.12" height="8.31" fill="#0024ff"/>
<rect x="127.26" y="236.93" width="9.12" height="8.31" fill="#0057ff"/>
<rect x="135.38" y="236.93" width="9.12" height="8.31" fill="#008aff"/>
<rect x="143.50" y="236.93" width="9.12" height="8.31" fill="#009eff"/>
<rect x="151.62" y="236.93" width="9.12" height="8.31" fill="#0094ff"/>
<rect x="159.74" y="236.93" width="9.12" height="8.31" fill="#0075ff"/>
<rect x="167.86" y="236.93" width="9.12" height="8.31" fill="#0042ff"/>
<rect x="175.98" y="236.93" width="9.12" height="8.31" fill="#000fff"/>
<rect x="184.10" y="236.93" width="9.12" height="8.31" fill="#0000fa"/>
<rect x="192.22" y="236.93" width="9.12" height="8.31" fill="#0000e6"/>
<rect x="200.34" y="236.93" width="9.12" height="8.31" fill="#0000c7"/>
<rect x="208.46" y="236.93" width="9.12" height="8.31" fill="#0000bd"/>
<rect x="216.58" y="236.93" width="12.12" height="8.31" fill="#0000db"/>
<rect x="59.30" y="244.24" width="12.12" height="8.31" fill="#0000c7"/>
<rect x="70.42" y="244.24" width="9.12" height="8.31" fill="#0000b2"/>
<rect x="78.54" y="244.24" width="9.12" height="8.31" fill="#0000c7"/>
<rect x="86.66" y="244.24" width="9.12" height="8.31" fill="#0000d1"/>
<rect x="94.78" y="244.24" width="9.12" height="8.31" fill="#0000d1"/>
<rect x="102.90" y="244.24" width="9.12" height="8.31" fill="#0000e6"/>
<rect x="111.02" y="244.24" width="9.12" height="8.31" fill="#0000fa"/>
<rect x="119.14" y="244.24" width="9.12" height="8.31" fill="#0024ff"/>
<rect x="127.26" y="244.24" width="9.12" height="8.31" fill="#0061ff"/>
<rect x="135.38" y="244.24" width="9.12" height="8.31" fill="#0094ff"/>
<rect x="143.50" y="244.24" width="9.12" height="8.31" fill="#00b2ff"/>
<rect x="151.62" y="244.24" width="9.12" height="8.31" fill="#00b2ff"/>
<rect x="159.74" y="244.24" width="9.12" height="8.31" fill="#0080ff"/>
<rect x="167.86" y="244.24" width="9.12" height="8.31" fill="#0042ff"/>
<rect x="175.98" y="244.24" width="9.12" height="8.31" fill="#000fff"/>
<rect x="184.10" y="244.24" width="9.12" height="8.31" fill="#0000f0"/>
<rect x="192.22" y="244.24" width="9.12" height="8.31" fill="#0000e6"/>
<rect x="200.34" y="244.24" width="9.12" height="8.31" fill="#0000c7"/>
<rect x="208.46" y="244.24" width="9.12" height="8.31" fill="#0000bd"/>
<rect x="216.58" y="244.24" width="12.12" height="8.31" fill="#0000d1"/>
<rect x="59.30" y="251.56" width="12.12" height="8.31" fill="#0000c7"/>
<rect x="70.42" y="251.56" width="9.12" height="8.31" fill="#0000b2"/>
<rect x="78.54" y="251.56" width="9.12" height="8.31" fill="#0000bd"/>
<rect x="86.66" y="251.56" width="9.12" height="8.31" fill="#0000c7"/>
<rect x="94.78" y="251.56" width="9.12" height="8.31" fill="#0000d1"/>
<rect x="102.90" y="251.56" width="9.12" height="8.31" fill="#0000db"/>
<rect x="111.02" y="251.56" width="9.12" height="8.31" fill="#0000fa"/>
<rect x="119.14" y="251.56" width="9.12" height="8.31" fill="#002eff"/>
<rect x="127.26" y="251.56" width="9.12" height="8.31" fill="#006bff"/>
<rect x="135.38" y="251.56" width="9.12" height="8.31" fill="#00a8ff"/>
<rect x="143.50" y="251.56" width="9.12" height="8.31" fill="#00c7ff"/>
<rect x="151.62" y="251.56" width="9.12" height="8.31" fill="#00bdff"/>
<rect x="159.74" y="251.56" width="9.12" height="8.31" fill="#008aff"/>
<rect x="167.86" y="251.56" width="9.12" height="8.31" fill="#0042ff"/>
<rect x="175.98" y="251.56" width="9.12" height="8.31" fill="#000fff"/>
<rect x="184.10" y="251.56" width="9.12" height="8.31" fill="#0000e6"/>
<rect x="192.22" y="251.56" width="9.12" height="8.31" fill="#0000db"/>
<rect x="200.34" y="251.56" width="9.12" height="8.31" fill="#0000d1"/>
<rect x="208.46" y="251.56" width="9.12" height="8.31" fill="#0000c7"/>
<rect x="216.58" y="251.56" width="12.12" height="8.31" fill="#0000d1"/>
<rect x="59.30" y="258.87" width="12.12" height="8.31" fill="#0000c7"/>
<rect x="70.42" y="258.87" width="9.12" height="8.31" fill="#0000b2"/>
<rect x="78.54" y="258.87" width="9.12" height="8.31" fill="#0000bd"/>
<rect x="86.66" y="258.87" width="9.12" height="8.31" fill="#0000c7"/>
<rect x="94.78" y="258.87" width="9.12" height="8.31" fill="#0000c7"/>
<rect x="102.90" y="258.87" width="9.12" height="8.31" fill="#0000db"/>
<rect x="111.02" y="258.87" width="9.12" height="8.31" fill="#0000f0"/>
<rect x="119.14" y="258.87" width="9.12" height="8.31" fill="#002eff"/>
<rect x="127.26" y="258.87" width="9.12" height="8.31" fill="#0075ff"/>
<rect x="135.38" y="258.87" width="9.12" height="8.31" fill="#00b2ff"/>
<rect x="143.50" y="258.87" width="9.12" height="8.31" fill="#00d1ff"/>
<rect x="151.62" y="258.87" width="9.12" height="8.31" fill="#00c7ff"/>
<rect x="159.74" y="258.87" width="9.12" height="8.31" fill="#0094ff"/>
<rect x="167.86" y="258.87" width="9.12" height="8.31" fill="#004dff"/>
<rect x="175.98" y="258.87" width="9.12" height="8.31" fill="#000fff"/>
<rect x="184.10" y="258.87" width="9.12" height="8.31" fill="#0000f0"/>
<rect x="192.22" y="258.87" width="9.12" height="8.31" fill="#0000db"/>
<rect x="200.34" y="258.87" width="9.12" height="8.31" fill="#0000d1"/>
<rect x="208.46" y="258.87" width="9.12" height="8.31" fill="#0000c7"/>
<rect x="216.58" y="258.87" width="12.12" height="8.31" fill="#0000d1"/>
<rect x="59.30" y="266.18" width="12.12" height="8.31" fill="#0000c7"/>
<rect x="70.42" y="266.18" width="9.12" height="8.31" fill="#0000bd"/>
<rect x="78.54" y="266.18" width="9.12" height="8.31" fill="#0000bd"/>
<rect x="86.66" y="266.18" width="9.12" height="8.31" fill="#0000c7"/>
<rect x="94.78" y="266.18" width="9.12" height="8.31" fill="#0000c7"/>
<rect x="102.90" y="266.18" width="9.12" height="8.31" fill="#0000db"/>
<rect x="111.02" y="266.18" width="9.12" height="8.31" fill="#0000f0"/>
<rect x="119.14" y="266.18" width="9.12" height="8.31" fill="#0038ff"/>
<rect x="127.26" y="266.18" width="9.12" height="8.31" fill="#0080ff"/>
<rect x="135.38" y="266.18" width="9.12" height="8.31" fill="#00c7ff"/>
<rect x="143.50" y="266.18" width="9.12" height="8.31" fill="#00f0ff"/>
<rect x="151.62" y="266.18" width="9.12" height="8.31" fill="#00e5ff"/>
<rect x="159.74" y="266.18" width="9.12" height="8.31" fill="#009eff"/>
<rect x="167.86" y="266.18" width="9.12" height="8.31" fill="#004dff"/>
<rect x="175.98" y="266.18" width="9.12" height="8.31" fill="#001aff"/>
<rect x="184.10" y="266.18" width="9.12" height="8.31" fill="#0000fa"/>
<rect x="192.22" y="266.18" width="9.12" height="8.31" fill="#0000db"/>
<rect x="200.34" y="266.18" width="9.12" height="8.31" fill="#0000c7"/>
<rect x="208.46" y="266.18" width="9.12" height="8.31" fill="#0000c7"/>
<rect x="216.58" y="266.18" width="12.12" height="8.31" fill="#0000d1"/>
<rect x="59.30" y="273.49" width="12.12" height="8.31" fill="#0000c7"/>
<rect x="70.42" y="273.49" width="9.12" height="8.31" fill="#0000bd"/>
<rect x="78.54" y="273.49" width="9.12" height="8.31" fill="#0000bd"/>
<rect x="86.66" y="273.49" width="9.12" height="8.31" fill="#0000c7"/>
<rect x="94.78" y="273.49" width="9.12" height="8.31" fill="#0000d1"/>
<rect x="102.90" y="273.49" width="9.12" height="8.31" fill="#0000db"/>
<rect x="111.02" y="273.49" width="9.12" height="8.31" fill="#0000f0"/>
<rect x="119.14" y="273.49" width="9.12" height="8.31" fill="#0042ff"/>
<rect x="127.26" y="273.49" width="9.12" height="8.31" fill="#008aff"/>
<rect x="135.38" y="273.49" width="9.12" height="8.31" fill="#00d1ff"/>
<rect x="143.50" y="273.49" width="9.12" height="8.31" fill="#0ffff0"/>
<rect x="151.62" y="273.49" width="9.12" height="8.31" fill="#05fffa"/>
<rect x="159.74" y="273.49" width="9.12" height="8.31" fill="#00a8ff"/>
<rect x="167.86" y="273.49" width="9.12" height="8.31" fill="#0057ff"/>
<rect x="175.98" y="273.49" width="9.12" height="8.31" fill="#0024ff"/>
<rect x="184.10" y="273.49" width="9.12" height="8.31" fill="#0005ff"/>
<rect x="192.22" y="273.49" width="9.12" height="8.31" fill="#0000db"/>
<rect x="200.34" y="273.49" width="9.12" height="8.31" fill="#0000d1"/>
<rect x="208.46" y="273.49" width="9.12" height="8.31" fill="#0000c7"/>
<rect x="216.58" y="273.49" width="12.12" height="8.31" fill="#0000d1"/>
<rect x="59.30" y="280.80" width="12.12" height="8.31" fill="#0000bd"/>
<rect x="70.42" y="280.80" width="9.12" height="8.31" fill="#0000bd"/>
<rect x="78.54" y="280.80" width="9.12" height="8.31" fill="#0000bd"/>
<rect x="86.66" y="280.80" width="9.12" height="8.31" fill="#0000b2"/>
<rect x="94.78" y="280.80" width="9.12" height="8.31" fill="#0000c7"/>
<rect x="102.90" y="280.80" width="9.12" height="8.31" fill="#0000d1"/>
<rect x="111.02" y="280.80" width="9.12" height="8.31" fill="#0000e6"/>
<rect x="119.14" y="280.80" width="9.12" height="8.31" fill="#004dff"/>
<rect x="127.26" y="280.80" width="9.12" height="8.31" fill="#008aff"/>
<rect x="135.38" y="280.80" width="9.12" height="8.31" fill="#00e5ff"/>
<rect x="143.50" y="280.80" width="9.12" height="8.31" fill="#2effd1"/>
<rect x="151.62" y="280.80" width="9.12" height="8.31" fill="#2effd1"/>
<rect x="159.74" y="280.80" width="9.12" height="8.31" fill="#00b2ff"/>
<rect x="167.86" y="280.80" width="9.12" height="8.31" fill="#0061ff"/>
<rect x="175.98" y="280.80" width="9.12" height="8.31" fill="#002eff"/>
<rect x="184.10" y="280.80" width="9.12" height="8.31" fill="#000fff"/>
<rect x="192.22" y="280.80" width="9.12" height="8.31" fill="#0000e6"/>
<rect x="200.34" y="280.80" width="9.12" height="8.31" fill="#0000db"/>
<rect x="208.46" y="280.80" width="9.12" height="8.31" fill="#0000d1"/>
<rect x="216.58" y="280.80" width="12.12" height="8.31" fill="#0000d1"/>
<rect x="59.30" y="288.11" width="12.12" height="8.31" fill="#0000bd"/>
<rect x="70.42" y="288.11" width="9.12" height="8.31" fill="#0000bd"/>
<rect x="78.54" y="288.11" width="9.12" height="8.31" fill="#0000bd"/>
<rect x="86.66" y="288.11" width="9.12" height="8.31" fill="#0000bd"/>
<rect x="94.78" y="288.11" width="9.12" height="8.31" fill="#0000c7"/>
<rect x="102.90" y="288.11" width="9.12" height="8.31" fill="#0000d1"/>
<rect x="111.02" y="288.11" width="9.12" height="8.31" fill="#0000e6"/>
<rect x="119.14" y="288.11" width="9.12" height="8.31" fill="#004dff"/>
<rect x="127.26" y="288.11" width="9.12" height="8.31" fill="#0094ff"/>
<rect x="135.38" y="288.11" width="9.12" height="8.31" fill="#00f0ff"/>
<rect x="143.50" y="288.11" width="9.12" height="8.31" fill="#61ff9e"/>
<rect x="151.62" y="288.11" width="9.12" height="8.31" fill="#4dffb2"/>
<rect x="159.74" y="288.11" width="9.12" height="8.31" fill="#00d1ff"/>
<rect x="167.86" y="288.11" width="9.12" height="8.31" fill="#0075ff"/>
<rect x="175.98" y="288.11" width="9.12" height="8.31" fill="#0042ff"/>
<rect x="184.10" y="288.11" width="9.12" height="8.31" fill="#001aff"/>
<rect x="192.22" y="288.11" width="9.12" height="8.31" fill="#0000e6"/>
<rect x="200.34" y="288.11" width="9.12" height="8.31" fill="#0000db"/>
<rect x="208.46" y="288.11" width="9.12" height="8.31" fill="#0000c7"/>
<rect x="216.58" y="288.11" width="12.12" height="8.31" fill="#0000d1"/>
<rect x="59.30" y="295.42" width="12.12" height="8.31" fill="#0000bd"/>
<rect x="70.42" y="295.42" width="9.12" height="8.31" fill="#0000bd"/>
<rect x="78.54" y="295.42" width="9.12" height="8.31" fill="#0000bd"/>
<rect x="86.66" y="295.42" width="9.12" height="8.31" fill="#0000bd"/>
<rect x="94.78" y="295.42" width="9.12" height="8.31" fill="#0000c7"/>
<rect x="102.90" y="295.42" width="9.12" height="8.31" fill="#0000d1"/>
<rect x="111.02" y="295.42" width="9.12" height="8.31" fill="#0000e6"/>
<rect x="119.14" y="295.42" width="9.12" height="8.31" fill="#004dff"/>
<rect x="127.26" y="295.42" width="9.12" height="8.31" fill="#009eff"/>
<rect x="135.38" y="295.42" width="9.12" height="8.31" fill="#00faff"/>
<rect x="143.50" y="295.42" width="9.12" height="8.31" fill="#94ff6b"/>
<rect x="151.62" y="295.42" width="9.12" height="8.31" fill="#61ff9e"/>
<rect x="159.74" y="295.42" width="9.12" height="8.31" fill="#00e5ff"/>
<rect x="167.86" y="295.42" width="9.12" height="8.31" fill="#0080ff"/>
<rect x="175.98" y="295.42" width="9.12" height="8.31" fill="#004dff"/>
<rect x="184.10" y="295.42" width="9.12" height="8.31" fill="#001aff"/>
<rect x="192.22" y="295.42" width="9.12" height="8.31" fill="#0000e6"/>
<rect x="200.34" y="295.42" width="9.12" height="8.31" fill="#0000d1"/>
<rect x="208.46" y="295.42" width="9.12" height="8.31" fill="#0000c7"/>
<rect x="216.58" y="295.42" width="12.12" height="8.31" fill="#0000d1"/>
<rect x="59.30" y="302.73" width="12.12" height="8.31" fill="#0000b2"/>
<rect x="70.42" y="302.73" width="9.12" height="8.31" fill="#0000bd"/>
<rect x="78.54" y="302.73" width="9.12" height="8.31" fill="#0000c7"/>
<rect x="86.66" y="302.73" width="9.12" height="8.31" fill="#0000c7"/>
<rect x="94.78" y="302.73" width="9.12" height="8.31" fill="#0000c7"/>
<rect x="102.90" y="302.73" width="9.12" height="8.31" fill="#0000e6"/>
<rect x="111.02" y="302.73" width="9.12" height="8.31" fill="#0000fa"/>
<rect x="119.14" y="302.73" width="9.12" height="8.31" fill="#004dff"/>
<rect x="127.26" y="302.73" width="9.12" height="8.31" fill="#009eff"/>
<rect x="135.38" y="302.73" width="9.12" height="8.31" fill="#05fffa"/>
<rect x="143.50" y="302.73" width="9.12" height="8.31" fill="#c7ff38"/>
<rect x="151.62" y="302.73" width="9.12" height="8.31" fill="#80ff80"/>
<rect x="159.74" y="302.73" width="9.12" height="8.31" fill="#00faff"/>
<rect x="167.86" y="302.73" width="9.12" height="8.31" fill="#008aff"/>
<rect x="175.98" y="302.73" width="9.12" height="8.31" fill="#004dff"/>
<rect x="184.10" y="302.73" width="9.12" height="8.31" fill="#000fff"/>
<rect x="192.22" y="302.73" width="9.12" height="8.31" fill="#0000db"/>
<rect x="200.34" y="302.73" width="9.12" height="8.31" fill="#0000c7"/>
<rect x="208.46" y="302.73" width="9.12" height="8.31" fill="#0000c7"/>
<rect x="216.58" y="302.73" width="12.12" height="8.31" fill="#0000c7"/>
<rect x="59.30" y="310.04" width="12.12" height="8.31" fill="#0000a8"/>
<rect x="70.42" y="310.04" width="9.12" height="8.31" fill="#0000b2"/>
<rect x="78.54" y="310.04" width="9.12" height="8.31" fill="#0000c7"/>
<rect x="86.66" y="310.04" width="9.12" height="8.31" fill="#0000c7"/>
<rect x="94.78" y="310.04" width="9.12" height="8.31" fill="#0000c7"/>
<rect x="102.90" y="310.04" width="9.12" height="8.31" fill="#0000e6"/>
<rect x="111.02" y="310.04" width="9.12" height="8.31" fill="#0000fa"/>
<rect x="119.14" y="310.04" width="9.12" height="8.31" fill="#004dff"/>
<rect x="127.26" y="310.04" width="9.12" height="8.31" fill="#009eff"/>
<rect x="135.38" y="310.04" width="9.12" height="8.31" fill="#1affe5"/>
<rect x="143.50" y="310.04" width="9.12" height="8.31" fill="#fffa00"/>
<rect x="151.62" y="310.04" width="9.12" height="8.31" fill="#b3ff4c"/>
<rect x="159.74" y="310.04" width="9.12" height="8.31" fill="#05fffa"/>
<rect x="167.86" y="310.04" width="9.12" height="8.31" fill="#0094ff"/>
<rect x="175.98" y="310.04" width="9.12" height="8.31" fill="#004dff"/>
<rect x="184.10" y="310.04" width="9.12" height="8.31" fill="#0005ff"/>
<rect x="192.22" y="310.04" width="9.12" height="8.31" fill="#0000d1"/>
<rect x="200.34" y="310.04" width="9.12" height="8.31" fill="#0000c7"/>
<rect x="208.46" y="310.04" width="9.12" height="8.31" fill="#0000bd"/>
<rect x="216.58" y="310.04" width="12.12" height="8.31" fill="#0000c7"/>
<rect x="59.30" y="317.36" width="12.12" height="8.31" fill="#0000a8"/>
<rect x="70.42" y="317.36" width="9.12" height="8.31" fill="#0000a8"/>
<rect x="78.54" y="317.36" width="9.12" height="8.31" fill="#0000bd"/>
<rect x="86.66" y="317.36" width="9.12" height="8.31" fill="#0000c7"/>
<rect x="94.78" y="317.36" width="9.12" height="8.31" fill="#0000c7"/>
<rect x="102.90" y="317.36" width="9.12" height="8.31" fill="#0000db"/>
<rect x="111.02" y="317.36" width="9.12" height="8.31" fill="#0000fa"/>
<rect x="119.14" y="317.36" width="9.12" height="8.31" fill="#0038ff"/>
<rect x="127.26" y="317.36" width="9.12" height="8.31" fill="#0094ff"/>
<rect x="135.38" y="317.36" width="9.12" height="8.31" fill="#1affe5"/>
<rect x="143.50" y="317.36" width="9.12" height="8.31" fill="#ffb300"/>
<rect x="151.62" y="317.36" width="9.12" height="8.31" fill="#d1ff2e"/>
<rect x="159.74" y="317.36" width="9.12" height="8.31" fill="#1affe5"/>
<rect x="167.86" y="317.36" width="9.12" height="8.31" fill="#0094ff"/>
<rect x="175.98" y="317.36" width="9.12" height="8.31" fill="#004dff"/>
<rect x="184.10" y="317.36" width="9.12" height="8.31" fill="#0000e6"/>
<rect x="192.22" y="317.36" width="9.12" height="8.31" fill="#0000c7"/>
<rect x="200.34" y="317.36" width="9.12" height="8.31" fill="#0000c7"/>
<rect x="208.46" y="317.36" width="9.12" height="8.31" fill="#0000bd"/>
<rect x="216.58" y="317.36" width="12.12" height="8.31" fill="#0000bd"/>
<rect x="59.30" y="324.67" width="12.12" height="8.31" fill="#0000a8"/>
<rect x="70.42" y="324.67" width="9.12" height="8.31" fill="#0000a8"/>
<rect x="78.54" y="324.67" width="9.12" height="8.31" fill="#0000a8"/>
<rect x="86.66" y="324.67" width="9.12" height="8.31" fill="#0000bd"/>
<rect x="94.78" y="324.67" width="9.12" height="8.31" fill="#0000c7"/>
<rect x="102.90" y="324.67" width="9.12" height="8.31" fill="#0000d1"/>
<rect x="111.02" y="324.67" width="9.12" height="8.31" fill="#0000f0"/>
<rect x="119.14" y="324.67" width="9.12" height="8.31" fill="#002eff"/>
<rect x="127.26" y="324.67" width="9.12" height="8.31" fill="#0094ff"/>
<rect x="135.38" y="324.67" width="9.12" height="8.31" fill="#2effd1"/>
<rect x="143.50" y="324.67" width="9.12" height="8.31" fill="#ff8a00"/>
<rect x="151.62" y="324.67" width="9.12" height="8.31" fill="#ffe500"/>
<rect x="159.74" y="324.67" width="9.12" height="8.31" fill="#2effd1"/>
<rect x="167.86" y="324.67" width="9.12" height="8.31" fill="#0094ff"/>
<rect x="175.98" y="324.67" width="9.12" height="8.31" fill="#0038ff"/>
<rect x="184.10" y="324.67" width="9.12" height="8.31" fill="#0000e6"/>
<rect x="192.22" y="324.67" width="9.12" height="8.31" fill="#0000c7"/>
<rect x="200.34" y="324.67" width="9.12" height="8.31" fill="#0000bd"/>
<rect x="208.46" y="324.67" width="9.12" height="8.31" fill="#0000bd"/>
<rect x="216.58" y="324.67" width="12.12" height="8.31" fill="#0000bd"/>
<rect x="59.30" y="331.98" width="12.12" height="8.31" fill="#0000a8"/>
<rect x="70.42" y="331.98" width="9.12" height="8.31" fill="#0000a8"/>
<rect x="78.54" y="331.98" width="9.12" height="8.31" fill="#0000a8"/>
<rect x="86.66" y="331.98" width="9.12" height="8.31" fill="#0000b2"/>
<rect x="94.78" y="331.98" width="9.12" height="8.31" fill="#0000c7"/>
<rect x="102.90" y="331.98" width="9.12" height="8.31" fill="#0000d1"/>
<rect x="111.02" y="331.98" width="9.12" height="8.31" fill="#0000e6"/>
<rect x="119.14" y="331.98" width="9.12" height="8.31" fill="#001aff"/>
<rect x="127.26" y="331.98" width="9.12" height="8.31" fill="#0075ff"/>
<rect x="135.38" y="331.98" width="9.12" height="8.31" fill="#94ff6b"/>
<rect x="143.50" y="331.98" width="9.12" height="8.31" fill="#ff6100"/>
<rect x="151.62" y="331.98" width="9.12" height="8.31" fill="#ff8000"/>
<rect x="159.74" y="331.98" width="9.12" height="8.31" fill="#80ff80"/>
<rect x="167.86" y="331.98" width="9.12" height="8.31" fill="#0094ff"/>
<rect x="175.98" y="331.98" width="9.12" height="8.31" fill="#001aff"/>
<rect x="184.10" y="331.98" width="9.12" height="8.31" fill="#0000d1"/>
<rect x="192.22" y="331.98" width="9.12" height="8.31" fill="#0000c7"/>
<rect x="200.34" y="331.98" width="9.12" height="8.31" fill="#0000bd"/>
<rect x="208.46" y="331.98" width="9.12" height="8.31" fill="#0000bd"/>
<rect x="216.58" y="331.98" width="12.12" height="8.31" fill="#0000bd"/>
<rect x="59.30" y="339.29" width="12.12" height="11.31" fill="#0000a8"/>
<rect x="70.42" y="339.29" width="9.12" height="11.31" fill="#0000a8"/>
<rect x="78.54" y="339.29" width="9.12" height="11.31" fill="#0000a8"/>
<rect x="86.66" y="339.29" width="9.12" height="11.31" fill="#0000a8"/>
<rect x="94.78" y="339.29" width="9.12" height="11.31" fill="#0000bd"/>
<rect x="102.90" y="339.29" width="9.12" height="11.31" fill="#0000c7"/>
<rect x="111.02" y="339.29" width="9.12" height="11.31" fill="#0000db"/>
<rect x="119.14" y="339.29" width="9.12" height="11.31" fill="#0000fa"/>
<rect x="127.26" y="339.29" width="9.12" height="11.31" fill="#002eff"/>
<rect x="135.38" y="339.29" width="9.12" height="11.31" fill="#61ff9e"/>
<rect x="143.50" y="339.29" width="9.12" height="11.31" fill="#800000"/>
<rect x="151.62" y="339.29" width="9.12" height="11.31" fill="#9e0000"/>
<rect x="159.74" y="339.29" width="9.12" height="11.31" fill="#4dffb2"/>
<rect x="167.86" y="339.29" width="9.12" height="11.31" fill="#004dff"/>
<rect x="175.98" y="339.29" width="9.12" height="11.31" fill="#0000e6"/>
<rect x="184.10" y="339.29" width="9.12" height="11.31" fill="#0000c7"/>
<rect x="192.22" y="339.29" width="9.12" height="11.31" fill="#0000bd"/>
<rect x="200.34" y="339.29" width="9.12" height="11.31" fill="#0000bd"/>
<rect x="208.46" y="339.29" width="9.12" height="11.31" fill="#0000bd"/>
<rect x="216.58" y="339.29" width="12.12" height="11.31" fill="#0000bd"/>
</g></g>
<rect x="236.10" y="215.00" width="6.60" height="131.60" fill="url(#cbc)"/>
<text x="59.4" y="346.5" text-anchor="end" style="font-family:'Liberation Sans',sans-serif;font-size:10px" fill="#2c2c2c">2</text>
<text x="59.4" y="317.3" text-anchor="end" style="font-family:'Liberation Sans',sans-serif;font-size:10px" fill="#2c2c2c">4</text>
<text x="59.4" y="288.1" text-anchor="end" style="font-family:'Liberation Sans',sans-serif;font-size:10px" fill="#2c2c2c">6</text>
<text x="59.4" y="258.8" text-anchor="end" style="font-family:'Liberation Sans',sans-serif;font-size:10px" fill="#2c2c2c">8</text>
<text x="59.4" y="229.6" text-anchor="end" style="font-family:'Liberation Sans',sans-serif;font-size:10px" fill="#2c2c2c">10</text>
<text x="62.5" y="360.7" text-anchor="middle" style="font-family:'Liberation Sans',sans-serif;font-size:10px" fill="#2c2c2c">-5</text>
<text x="143.5" y="360.7" text-anchor="middle" style="font-family:'Liberation Sans',sans-serif;font-size:10px" fill="#2c2c2c">0</text>
<text x="224.7" y="360.7" text-anchor="middle" style="font-family:'Liberation Sans',sans-serif;font-size:10px" fill="#2c2c2c">5</text>
<text x="143.4" y="374.5" text-anchor="middle" style="font-family:'Liberation Sans',sans-serif;font-weight:bold;font-size:11.3px" fill="#111">X Axis [mm]</text>
<text transform="translate(43.8 280.6) rotate(-90)" text-anchor="middle" style="font-family:'Liberation Sans',sans-serif;font-weight:bold;font-size:10.8px" fill="#111">Z Axis [mm]</text>
<text x="242" y="212" style="font-family:'Liberation Sans',sans-serif;font-weight:bold;font-size:10px" fill="#111">[kPa]</text>
<text x="246" y="313.5" style="font-family:'Liberation Sans',sans-serif;font-weight:bold;font-size:8.7px" fill="#111">50</text>
<path d="M241 310.4 L242.7 310.4" stroke="#333" stroke-width="0.5"/>
<text x="246" y="273.4" style="font-family:'Liberation Sans',sans-serif;font-weight:bold;font-size:8.7px" fill="#111">100</text>
<path d="M241 270.3 L242.7 270.3" stroke="#333" stroke-width="0.5"/>
<text x="246" y="233.0" style="font-family:'Liberation Sans',sans-serif;font-weight:bold;font-size:8.7px" fill="#111">150</text>
<path d="M241 229.9 L242.7 229.9" stroke="#333" stroke-width="0.5"/>
<text x="295.7" y="205" style="font-family:'Liberation Serif',serif;font-weight:bold;font-size:12px" fill="#000">(d)</text>
<g clip-path="url(#hc2)"><g filter="url(#hb)">
<rect x="311.70" y="211.50" width="12.21" height="10.60" fill="#0000f5"/>
<rect x="322.91" y="211.50" width="9.21" height="10.60" fill="#0000f5"/>
<rect x="331.12" y="211.50" width="9.21" height="10.60" fill="#0000eb"/>
<rect x="339.33" y="211.50" width="9.21" height="10.60" fill="#0000eb"/>
<rect x="347.54" y="211.50" width="9.21" height="10.60" fill="#0000eb"/>
<rect x="355.75" y="211.50" width="9.21" height="10.60" fill="#0000f5"/>
<rect x="363.96" y="211.50" width="9.21" height="10.60" fill="#0039ff"/>
<rect x="372.17" y="211.50" width="9.21" height="10.60" fill="#0061ff"/>
<rect x="380.38" y="211.50" width="9.21" height="10.60" fill="#0075ff"/>
<rect x="388.59" y="211.50" width="9.21" height="10.60" fill="#0075ff"/>
<rect x="396.80" y="211.50" width="9.21" height="10.60" fill="#0094ff"/>
<rect x="405.01" y="211.50" width="9.21" height="10.60" fill="#0094ff"/>
<rect x="413.22" y="211.50" width="9.21" height="10.60" fill="#004dff"/>
<rect x="421.43" y="211.50" width="9.21" height="10.60" fill="#0039ff"/>
<rect x="429.64" y="211.50" width="9.21" height="10.60" fill="#0025ff"/>
<rect x="437.85" y="211.50" width="9.21" height="10.60" fill="#000aff"/>
<rect x="446.06" y="211.50" width="9.21" height="10.60" fill="#000aff"/>
<rect x="454.27" y="211.50" width="9.21" height="10.60" fill="#0000f5"/>
<rect x="462.48" y="211.50" width="9.21" height="10.60" fill="#0000eb"/>
<rect x="470.69" y="211.50" width="12.21" height="10.60" fill="#0000eb"/>
<rect x="311.70" y="221.10" width="12.21" height="7.60" fill="#0000e0"/>
<rect x="322.91" y="221.10" width="9.21" height="7.60" fill="#0000d6"/>
<rect x="331.12" y="221.10" width="9.21" height="7.60" fill="#0000f5"/>
<rect x="339.33" y="221.10" width="9.21" height="7.60" fill="#0000f5"/>
<rect x="347.54" y="221.10" width="9.21" height="7.60" fill="#000aff"/>
<rect x="355.75" y="221.10" width="9.21" height="7.60" fill="#000aff"/>
<rect x="363.96" y="221.10" width="9.21" height="7.60" fill="#004dff"/>
<rect x="372.17" y="221.10" width="9.21" height="7.60" fill="#0094ff"/>
<rect x="380.38" y="221.10" width="9.21" height="7.60" fill="#0094ff"/>
<rect x="388.59" y="221.10" width="9.21" height="7.60" fill="#0094ff"/>
<rect x="396.80" y="221.10" width="9.21" height="7.60" fill="#00b2ff"/>
<rect x="405.01" y="221.10" width="9.21" height="7.60" fill="#00b2ff"/>
<rect x="413.22" y="221.10" width="9.21" height="7.60" fill="#0080ff"/>
<rect x="421.43" y="221.10" width="9.21" height="7.60" fill="#004dff"/>
<rect x="429.64" y="221.10" width="9.21" height="7.60" fill="#0039ff"/>
<rect x="437.85" y="221.10" width="9.21" height="7.60" fill="#002bff"/>
<rect x="446.06" y="221.10" width="9.21" height="7.60" fill="#000aff"/>
<rect x="454.27" y="221.10" width="9.21" height="7.60" fill="#0000f5"/>
<rect x="462.48" y="221.10" width="9.21" height="7.60" fill="#0000d6"/>
<rect x="470.69" y="221.10" width="12.21" height="7.60" fill="#0000c2"/>
<rect x="311.70" y="227.71" width="12.21" height="7.60" fill="#0000a3"/>
<rect x="322.91" y="227.71" width="9.21" height="7.60" fill="#0000eb"/>
<rect x="331.12" y="227.71" width="9.21" height="7.60" fill="#0039ff"/>
<rect x="339.33" y="227.71" width="9.21" height="7.60" fill="#0039ff"/>
<rect x="347.54" y="227.71" width="9.21" height="7.60" fill="#0025ff"/>
<rect x="355.75" y="227.71" width="9.21" height="7.60" fill="#0039ff"/>
<rect x="363.96" y="227.71" width="9.21" height="7.60" fill="#004dff"/>
<rect x="372.17" y="227.71" width="9.21" height="7.60" fill="#0080ff"/>
<rect x="380.38" y="227.71" width="9.21" height="7.60" fill="#00f0ff"/>
<rect x="388.59" y="227.71" width="9.21" height="7.60" fill="#00f0ff"/>
<rect x="396.80" y="227.71" width="9.21" height="7.60" fill="#00f0ff"/>
<rect x="405.01" y="227.71" width="9.21" height="7.60" fill="#00f0ff"/>
<rect x="413.22" y="227.71" width="9.21" height="7.60" fill="#00d1ff"/>
<rect x="421.43" y="227.71" width="9.21" height="7.60" fill="#0061ff"/>
<rect x="429.64" y="227.71" width="9.21" height="7.60" fill="#004dff"/>
<rect x="437.85" y="227.71" width="9.21" height="7.60" fill="#0039ff"/>
<rect x="446.06" y="227.71" width="9.21" height="7.60" fill="#000aff"/>
<rect x="454.27" y="227.71" width="9.21" height="7.60" fill="#0000f5"/>
<rect x="462.48" y="227.71" width="9.21" height="7.60" fill="#0000eb"/>
<rect x="470.69" y="227.71" width="12.21" height="7.60" fill="#0000e0"/>
<rect x="311.70" y="234.31" width="12.21" height="7.60" fill="#0000eb"/>
<rect x="322.91" y="234.31" width="9.21" height="7.60" fill="#000aff"/>
<rect x="331.12" y="234.31" width="9.21" height="7.60" fill="#0017ff"/>
<rect x="339.33" y="234.31" width="9.21" height="7.60" fill="#0039ff"/>
<rect x="347.54" y="234.31" width="9.21" height="7.60" fill="#0039ff"/>
<rect x="355.75" y="234.31" width="9.21" height="7.60" fill="#004dff"/>
<rect x="363.96" y="234.31" width="9.21" height="7.60" fill="#009eff"/>
<rect x="372.17" y="234.31" width="9.21" height="7.60" fill="#1affe5"/>
<rect x="380.38" y="234.31" width="9.21" height="7.60" fill="#4dffb2"/>
<rect x="388.59" y="234.31" width="9.21" height="7.60" fill="#4dffb2"/>
<rect x="396.80" y="234.31" width="9.21" height="7.60" fill="#61ff9e"/>
<rect x="405.01" y="234.31" width="9.21" height="7.60" fill="#61ff9e"/>
<rect x="413.22" y="234.31" width="9.21" height="7.60" fill="#4dffb2"/>
<rect x="421.43" y="234.31" width="9.21" height="7.60" fill="#2effd1"/>
<rect x="429.64" y="234.31" width="9.21" height="7.60" fill="#00b2ff"/>
<rect x="437.85" y="234.31" width="9.21" height="7.60" fill="#0061ff"/>
<rect x="446.06" y="234.31" width="9.21" height="7.60" fill="#0017ff"/>
<rect x="454.27" y="234.31" width="9.21" height="7.60" fill="#0000f5"/>
<rect x="462.48" y="234.31" width="9.21" height="7.60" fill="#0000f5"/>
<rect x="470.69" y="234.31" width="12.21" height="7.60" fill="#0000eb"/>
<rect x="311.70" y="240.92" width="12.21" height="7.60" fill="#0000c2"/>
<rect x="322.91" y="240.92" width="9.21" height="7.60" fill="#0000f5"/>
<rect x="331.12" y="240.92" width="9.21" height="7.60" fill="#0025ff"/>
<rect x="339.33" y="240.92" width="9.21" height="7.60" fill="#004dff"/>
<rect x="347.54" y="240.92" width="9.21" height="7.60" fill="#0061ff"/>
<rect x="355.75" y="240.92" width="9.21" height="7.60" fill="#0094ff"/>
<rect x="363.96" y="240.92" width="9.21" height="7.60" fill="#00f0ff"/>
<rect x="372.17" y="240.92" width="9.21" height="7.60" fill="#4dffb2"/>
<rect x="380.38" y="240.92" width="9.21" height="7.60" fill="#80ff80"/>
<rect x="388.59" y="240.92" width="9.21" height="7.60" fill="#80ff80"/>
<rect x="396.80" y="240.92" width="9.21" height="7.60" fill="#80ff80"/>
<rect x="405.01" y="240.92" width="9.21" height="7.60" fill="#80ff80"/>
<rect x="413.22" y="240.92" width="9.21" height="7.60" fill="#80ff80"/>
<rect x="421.43" y="240.92" width="9.21" height="7.60" fill="#4dffb2"/>
<rect x="429.64" y="240.92" width="9.21" height="7.60" fill="#00f0ff"/>
<rect x="437.85" y="240.92" width="9.21" height="7.60" fill="#00b2ff"/>
<rect x="446.06" y="240.92" width="9.21" height="7.60" fill="#004dff"/>
<rect x="454.27" y="240.92" width="9.21" height="7.60" fill="#000aff"/>
<rect x="462.48" y="240.92" width="9.21" height="7.60" fill="#0000ff"/>
<rect x="470.69" y="240.92" width="12.21" height="7.60" fill="#0000f5"/>
<rect x="311.70" y="247.53" width="12.21" height="7.60" fill="#0000c2"/>
<rect x="322.91" y="247.53" width="9.21" height="7.60" fill="#0000f5"/>
<rect x="331.12" y="247.53" width="9.21" height="7.60" fill="#0039ff"/>
<rect x="339.33" y="247.53" width="9.21" height="7.60" fill="#0061ff"/>
<rect x="347.54" y="247.53" width="9.21" height="7.60" fill="#0080ff"/>
<rect x="355.75" y="247.53" width="9.21" height="7.60" fill="#00b2ff"/>
<rect x="363.96" y="247.53" width="9.21" height="7.60" fill="#00faff"/>
<rect x="372.17" y="247.53" width="9.21" height="7.60" fill="#61ff9e"/>
<rect x="380.38" y="247.53" width="9.21" height="7.60" fill="#b3ff4c"/>
<rect x="388.59" y="247.53" width="9.21" height="7.60" fill="#c7ff38"/>
<rect x="396.80" y="247.53" width="9.21" height="7.60" fill="#e5ff1a"/>
<rect x="405.01" y="247.53" width="9.21" height="7.60" fill="#faff05"/>
<rect x="413.22" y="247.53" width="9.21" height="7.60" fill="#e5ff1a"/>
<rect x="421.43" y="247.53" width="9.21" height="7.60" fill="#80ff80"/>
<rect x="429.64" y="247.53" width="9.21" height="7.60" fill="#2effd1"/>
<rect x="437.85" y="247.53" width="9.21" height="7.60" fill="#00c7ff"/>
<rect x="446.06" y="247.53" width="9.21" height="7.60" fill="#0061ff"/>
<rect x="454.27" y="247.53" width="9.21" height="7.60" fill="#0039ff"/>
<rect x="462.48" y="247.53" width="9.21" height="7.60" fill="#000aff"/>
<rect x="470.69" y="247.53" width="12.21" height="7.60" fill="#000aff"/>
<rect x="311.70" y="254.13" width="12.21" height="7.61" fill="#0000c2"/>
<rect x="322.91" y="254.13" width="9.21" height="7.61" fill="#0000f5"/>
<rect x="331.12" y="254.13" width="9.21" height="7.61" fill="#0039ff"/>
<rect x="339.33" y="254.13" width="9.21" height="7.61" fill="#0061ff"/>
<rect x="347.54" y="254.13" width="9.21" height="7.61" fill="#0094ff"/>
<rect x="355.75" y="254.13" width="9.21" height="7.61" fill="#00d1ff"/>
<rect x="363.96" y="254.13" width="9.21" height="7.61" fill="#42ffbd"/>
<rect x="372.17" y="254.13" width="9.21" height="7.61" fill="#94ff6b"/>
<rect x="380.38" y="254.13" width="9.21" height="7.61" fill="#ffc700"/>
<rect x="388.59" y="254.13" width="9.21" height="7.61" fill="#ff8000"/>
<rect x="396.80" y="254.13" width="9.21" height="7.61" fill="#ff6100"/>
<rect x="405.01" y="254.13" width="9.21" height="7.61" fill="#ff6100"/>
<rect x="413.22" y="254.13" width="9.21" height="7.61" fill="#ff9e00"/>
<rect x="421.43" y="254.13" width="9.21" height="7.61" fill="#faff05"/>
<rect x="429.64" y="254.13" width="9.21" height="7.61" fill="#6bff94"/>
<rect x="437.85" y="254.13" width="9.21" height="7.61" fill="#00f0ff"/>
<rect x="446.06" y="254.13" width="9.21" height="7.61" fill="#0094ff"/>
<rect x="454.27" y="254.13" width="9.21" height="7.61" fill="#004dff"/>
<rect x="462.48" y="254.13" width="9.21" height="7.61" fill="#0025ff"/>
<rect x="470.69" y="254.13" width="12.21" height="7.61" fill="#000aff"/>
<rect x="311.70" y="260.74" width="12.21" height="7.61" fill="#0000c2"/>
<rect x="322.91" y="260.74" width="9.21" height="7.61" fill="#0000f5"/>
<rect x="331.12" y="260.74" width="9.21" height="7.61" fill="#0039ff"/>
<rect x="339.33" y="260.74" width="9.21" height="7.61" fill="#0075ff"/>
<rect x="347.54" y="260.74" width="9.21" height="7.61" fill="#00b2ff"/>
<rect x="355.75" y="260.74" width="9.21" height="7.61" fill="#00f0ff"/>
<rect x="363.96" y="260.74" width="9.21" height="7.61" fill="#94ff6b"/>
<rect x="372.17" y="260.74" width="9.21" height="7.61" fill="#fffa00"/>
<rect x="380.38" y="260.74" width="9.21" height="7.61" fill="#ff8000"/>
<rect x="388.59" y="260.74" width="9.21" height="7.61" fill="#ff4c00"/>
<rect x="396.80" y="260.74" width="9.21" height="7.61" fill="#ff3800"/>
<rect x="405.01" y="260.74" width="9.21" height="7.61" fill="#ff3800"/>
<rect x="413.22" y="260.74" width="9.21" height="7.61" fill="#ff4c00"/>
<rect x="421.43" y="260.74" width="9.21" height="7.61" fill="#ff9e00"/>
<rect x="429.64" y="260.74" width="9.21" height="7.61" fill="#b3ff4c"/>
<rect x="437.85" y="260.74" width="9.21" height="7.61" fill="#05fffa"/>
<rect x="446.06" y="260.74" width="9.21" height="7.61" fill="#00b2ff"/>
<rect x="454.27" y="260.74" width="9.21" height="7.61" fill="#0061ff"/>
<rect x="462.48" y="260.74" width="9.21" height="7.61" fill="#0039ff"/>
<rect x="470.69" y="260.74" width="12.21" height="7.61" fill="#0017ff"/>
<rect x="311.70" y="267.34" width="12.21" height="7.61" fill="#0000c2"/>
<rect x="322.91" y="267.34" width="9.21" height="7.61" fill="#0000f5"/>
<rect x="331.12" y="267.34" width="9.21" height="7.61" fill="#004dff"/>
<rect x="339.33" y="267.34" width="9.21" height="7.61" fill="#0094ff"/>
<rect x="347.54" y="267.34" width="9.21" height="7.61" fill="#00dbff"/>
<rect x="355.75" y="267.34" width="9.21" height="7.61" fill="#05fffa"/>
<rect x="363.96" y="267.34" width="9.21" height="7.61" fill="#d1ff2e"/>
<rect x="372.17" y="267.34" width="9.21" height="7.61" fill="#ff9400"/>
<rect x="380.38" y="267.34" width="9.21" height="7.61" fill="#ff4c00"/>
<rect x="388.59" y="267.34" width="9.21" height="7.61" fill="#ff0500"/>
<rect x="396.80" y="267.34" width="9.21" height="7.61" fill="#b30000"/>
<rect x="405.01" y="267.34" width="9.21" height="7.61" fill="#b30000"/>
<rect x="413.22" y="267.34" width="9.21" height="7.61" fill="#b30000"/>
<rect x="421.43" y="267.34" width="9.21" height="7.61" fill="#ff4c00"/>
<rect x="429.64" y="267.34" width="9.21" height="7.61" fill="#faff05"/>
<rect x="437.85" y="267.34" width="9.21" height="7.61" fill="#2effd1"/>
<rect x="446.06" y="267.34" width="9.21" height="7.61" fill="#00d1ff"/>
<rect x="454.27" y="267.34" width="9.21" height="7.61" fill="#0080ff"/>
<rect x="462.48" y="267.34" width="9.21" height="7.61" fill="#004dff"/>
<rect x="470.69" y="267.34" width="12.21" height="7.61" fill="#0025ff"/>
<rect x="311.70" y="273.94" width="12.21" height="7.61" fill="#0000c2"/>
<rect x="322.91" y="273.94" width="9.21" height="7.61" fill="#000aff"/>
<rect x="331.12" y="273.94" width="9.21" height="7.61" fill="#004dff"/>
<rect x="339.33" y="273.94" width="9.21" height="7.61" fill="#0094ff"/>
<rect x="347.54" y="273.94" width="9.21" height="7.61" fill="#00e5ff"/>
<rect x="355.75" y="273.94" width="9.21" height="7.61" fill="#1affe5"/>
<rect x="363.96" y="273.94" width="9.21" height="7.61" fill="#d1ff2e"/>
<rect x="372.17" y="273.94" width="9.21" height="7.61" fill="#ff8000"/>
<rect x="380.38" y="273.94" width="9.21" height="7.61" fill="#ff3800"/>
<rect x="388.59" y="273.94" width="9.21" height="7.61" fill="#e50000"/>
<rect x="396.80" y="273.94" width="9.21" height="7.61" fill="#800000"/>
<rect x="405.01" y="273.94" width="9.21" height="7.61" fill="#940000"/>
<rect x="413.22" y="273.94" width="9.21" height="7.61" fill="#b30000"/>
<rect x="421.43" y="273.94" width="9.21" height="7.61" fill="#ff3800"/>
<rect x="429.64" y="273.94" width="9.21" height="7.61" fill="#ffc700"/>
<rect x="437.85" y="273.94" width="9.21" height="7.61" fill="#4dffb2"/>
<rect x="446.06" y="273.94" width="9.21" height="7.61" fill="#05fffa"/>
<rect x="454.27" y="273.94" width="9.21" height="7.61" fill="#00b2ff"/>
<rect x="462.48" y="273.94" width="9.21" height="7.61" fill="#0075ff"/>
<rect x="470.69" y="273.94" width="12.21" height="7.61" fill="#002eff"/>
<rect x="311.70" y="280.55" width="12.21" height="7.61" fill="#0000d6"/>
<rect x="322.91" y="280.55" width="9.21" height="7.61" fill="#0039ff"/>
<rect x="331.12" y="280.55" width="9.21" height="7.61" fill="#0061ff"/>
<rect x="339.33" y="280.55" width="9.21" height="7.61" fill="#0094ff"/>
<rect x="347.54" y="280.55" width="9.21" height="7.61" fill="#00f0ff"/>
<rect x="355.75" y="280.55" width="9.21" height="7.61" fill="#2effd1"/>
<rect x="363.96" y="280.55" width="9.21" height="7.61" fill="#d1ff2e"/>
<rect x="372.17" y="280.55" width="9.21" height="7.61" fill="#ff9e00"/>
<rect x="380.38" y="280.55" width="9.21" height="7.61" fill="#ff4c00"/>
<rect x="388.59" y="280.55" width="9.21" height="7.61" fill="#e50000"/>
<rect x="396.80" y="280.55" width="9.21" height="7.61" fill="#800000"/>
<rect x="405.01" y="280.55" width="9.21" height="7.61" fill="#800000"/>
<rect x="413.22" y="280.55" width="9.21" height="7.61" fill="#b30000"/>
<rect x="421.43" y="280.55" width="9.21" height="7.61" fill="#ff4c00"/>
<rect x="429.64" y="280.55" width="9.21" height="7.61" fill="#ffe500"/>
<rect x="437.85" y="280.55" width="9.21" height="7.61" fill="#80ff80"/>
<rect x="446.06" y="280.55" width="9.21" height="7.61" fill="#05fffa"/>
<rect x="454.27" y="280.55" width="9.21" height="7.61" fill="#00c7ff"/>
<rect x="462.48" y="280.55" width="9.21" height="7.61" fill="#008aff"/>
<rect x="470.69" y="280.55" width="12.21" height="7.61" fill="#0038ff"/>
<rect x="311.70" y="287.16" width="12.21" height="7.61" fill="#0000d6"/>
<rect x="322.91" y="287.16" width="9.21" height="7.61" fill="#002bff"/>
<rect x="331.12" y="287.16" width="9.21" height="7.61" fill="#0061ff"/>
<rect x="339.33" y="287.16" width="9.21" height="7.61" fill="#0094ff"/>
<rect x="347.54" y="287.16" width="9.21" height="7.61" fill="#00e5ff"/>
<rect x="355.75" y="287.16" width="9.21" height="7.61" fill="#2effd1"/>
<rect x="363.96" y="287.16" width="9.21" height="7.61" fill="#d1ff2e"/>
<rect x="372.17" y="287.16" width="9.21" height="7.61" fill="#ffc700"/>
<rect x="380.38" y="287.16" width="9.21" height="7.61" fill="#ff4c00"/>
<rect x="388.59" y="287.16" width="9.21" height="7.61" fill="#fa0000"/>
<rect x="396.80" y="287.16" width="9.21" height="7.61" fill="#b30000"/>
<rect x="405.01" y="287.16" width="9.21" height="7.61" fill="#800000"/>
<rect x="413.22" y="287.16" width="9.21" height="7.61" fill="#b30000"/>
<rect x="421.43" y="287.16" width="9.21" height="7.61" fill="#ff4c00"/>
<rect x="429.64" y="287.16" width="9.21" height="7.61" fill="#ffe500"/>
<rect x="437.85" y="287.16" width="9.21" height="7.61" fill="#80ff80"/>
<rect x="446.06" y="287.16" width="9.21" height="7.61" fill="#05fffa"/>
<rect x="454.27" y="287.16" width="9.21" height="7.61" fill="#00b2ff"/>
<rect x="462.48" y="287.16" width="9.21" height="7.61" fill="#0075ff"/>
<rect x="470.69" y="287.16" width="12.21" height="7.61" fill="#0024ff"/>
<rect x="311.70" y="293.76" width="12.21" height="7.61" fill="#0000d6"/>
<rect x="322.91" y="293.76" width="9.21" height="7.61" fill="#0017ff"/>
<rect x="331.12" y="293.76" width="9.21" height="7.61" fill="#004dff"/>
<rect x="339.33" y="293.76" width="9.21" height="7.61" fill="#0080ff"/>
<rect x="347.54" y="293.76" width="9.21" height="7.61" fill="#00d1ff"/>
<rect x="355.75" y="293.76" width="9.21" height="7.61" fill="#1affe5"/>
<rect x="363.96" y="293.76" width="9.21" height="7.61" fill="#a8ff57"/>
<rect x="372.17" y="293.76" width="9.21" height="7.61" fill="#ffe500"/>
<rect x="380.38" y="293.76" width="9.21" height="7.61" fill="#ff6100"/>
<rect x="388.59" y="293.76" width="9.21" height="7.61" fill="#ff3800"/>
<rect x="396.80" y="293.76" width="9.21" height="7.61" fill="#ff0500"/>
<rect x="405.01" y="293.76" width="9.21" height="7.61" fill="#ff0500"/>
<rect x="413.22" y="293.76" width="9.21" height="7.61" fill="#ff1a00"/>
<rect x="421.43" y="293.76" width="9.21" height="7.61" fill="#ff6100"/>
<rect x="429.64" y="293.76" width="9.21" height="7.61" fill="#fffa00"/>
<rect x="437.85" y="293.76" width="9.21" height="7.61" fill="#6bff94"/>
<rect x="446.06" y="293.76" width="9.21" height="7.61" fill="#05fffa"/>
<rect x="454.27" y="293.76" width="9.21" height="7.61" fill="#00b2ff"/>
<rect x="462.48" y="293.76" width="9.21" height="7.61" fill="#0061ff"/>
<rect x="470.69" y="293.76" width="12.21" height="7.61" fill="#0017ff"/>
<rect x="311.70" y="300.37" width="12.21" height="7.61" fill="#0000b8"/>
<rect x="322.91" y="300.37" width="9.21" height="7.61" fill="#0000f5"/>
<rect x="331.12" y="300.37" width="9.21" height="7.61" fill="#0039ff"/>
<rect x="339.33" y="300.37" width="9.21" height="7.61" fill="#004dff"/>
<rect x="347.54" y="300.37" width="9.21" height="7.61" fill="#0080ff"/>
<rect x="355.75" y="300.37" width="9.21" height="7.61" fill="#05fffa"/>
<rect x="363.96" y="300.37" width="9.21" height="7.61" fill="#6bff94"/>
<rect x="372.17" y="300.37" width="9.21" height="7.61" fill="#faff05"/>
<rect x="380.38" y="300.37" width="9.21" height="7.61" fill="#ffb300"/>
<rect x="388.59" y="300.37" width="9.21" height="7.61" fill="#ff9e00"/>
<rect x="396.80" y="300.37" width="9.21" height="7.61" fill="#ff9400"/>
<rect x="405.01" y="300.37" width="9.21" height="7.61" fill="#ff8000"/>
<rect x="413.22" y="300.37" width="9.21" height="7.61" fill="#ff8000"/>
<rect x="421.43" y="300.37" width="9.21" height="7.61" fill="#ffb300"/>
<rect x="429.64" y="300.37" width="9.21" height="7.61" fill="#e5ff1a"/>
<rect x="437.85" y="300.37" width="9.21" height="7.61" fill="#4dffb2"/>
<rect x="446.06" y="300.37" width="9.21" height="7.61" fill="#00f0ff"/>
<rect x="454.27" y="300.37" width="9.21" height="7.61" fill="#0094ff"/>
<rect x="462.48" y="300.37" width="9.21" height="7.61" fill="#002bff"/>
<rect x="470.69" y="300.37" width="12.21" height="7.61" fill="#000aff"/>
<rect x="311.70" y="306.97" width="12.21" height="7.61" fill="#0000cc"/>
<rect x="322.91" y="306.97" width="9.21" height="7.61" fill="#0000e0"/>
<rect x="331.12" y="306.97" width="9.21" height="7.61" fill="#0017ff"/>
<rect x="339.33" y="306.97" width="9.21" height="7.61" fill="#002bff"/>
<rect x="347.54" y="306.97" width="9.21" height="7.61" fill="#004dff"/>
<rect x="355.75" y="306.97" width="9.21" height="7.61" fill="#00b2ff"/>
<rect x="363.96" y="306.97" width="9.21" height="7.61" fill="#2effd1"/>
<rect x="372.17" y="306.97" width="9.21" height="7.61" fill="#80ff80"/>
<rect x="380.38" y="306.97" width="9.21" height="7.61" fill="#b3ff4c"/>
<rect x="388.59" y="306.97" width="9.21" height="7.61" fill="#b3ff4c"/>
<rect x="396.80" y="306.97" width="9.21" height="7.61" fill="#b3ff4c"/>
<rect x="405.01" y="306.97" width="9.21" height="7.61" fill="#b3ff4c"/>
<rect x="413.22" y="306.97" width="9.21" height="7.61" fill="#e5ff1a"/>
<rect x="421.43" y="306.97" width="9.21" height="7.61" fill="#b3ff4c"/>
<rect x="429.64" y="306.97" width="9.21" height="7.61" fill="#61ff9e"/>
<rect x="437.85" y="306.97" width="9.21" height="7.61" fill="#05fffa"/>
<rect x="446.06" y="306.97" width="9.21" height="7.61" fill="#0094ff"/>
<rect x="454.27" y="306.97" width="9.21" height="7.61" fill="#004dff"/>
<rect x="462.48" y="306.97" width="9.21" height="7.61" fill="#0017ff"/>
<rect x="470.69" y="306.97" width="12.21" height="7.61" fill="#0000eb"/>
<rect x="311.70" y="313.58" width="12.21" height="7.61" fill="#0000cc"/>
<rect x="322.91" y="313.58" width="9.21" height="7.61" fill="#0000d6"/>
<rect x="331.12" y="313.58" width="9.21" height="7.61" fill="#0000eb"/>
<rect x="339.33" y="313.58" width="9.21" height="7.61" fill="#000aff"/>
<rect x="347.54" y="313.58" width="9.21" height="7.61" fill="#0017ff"/>
<rect x="355.75" y="313.58" width="9.21" height="7.61" fill="#004dff"/>
<rect x="363.96" y="313.58" width="9.21" height="7.61" fill="#0080ff"/>
<rect x="372.17" y="313.58" width="9.21" height="7.61" fill="#00d1ff"/>
<rect x="380.38" y="313.58" width="9.21" height="7.61" fill="#05fffa"/>
<rect x="388.59" y="313.58" width="9.21" height="7.61" fill="#05fffa"/>
<rect x="396.80" y="313.58" width="9.21" height="7.61" fill="#05fffa"/>
<rect x="405.01" y="313.58" width="9.21" height="7.61" fill="#05fffa"/>
<rect x="413.22" y="313.58" width="9.21" height="7.61" fill="#05fffa"/>
<rect x="421.43" y="313.58" width="9.21" height="7.61" fill="#00f0ff"/>
<rect x="429.64" y="313.58" width="9.21" height="7.61" fill="#00b2ff"/>
<rect x="437.85" y="313.58" width="9.21" height="7.61" fill="#0080ff"/>
<rect x="446.06" y="313.58" width="9.21" height="7.61" fill="#0039ff"/>
<rect x="454.27" y="313.58" width="9.21" height="7.61" fill="#0017ff"/>
<rect x="462.48" y="313.58" width="9.21" height="7.61" fill="#0000f5"/>
<rect x="470.69" y="313.58" width="12.21" height="7.61" fill="#0000cc"/>
<rect x="311.70" y="320.18" width="12.21" height="7.61" fill="#0000c2"/>
<rect x="322.91" y="320.18" width="9.21" height="7.61" fill="#0000d6"/>
<rect x="331.12" y="320.18" width="9.21" height="7.61" fill="#0000e0"/>
<rect x="339.33" y="320.18" width="9.21" height="7.61" fill="#0000eb"/>
<rect x="347.54" y="320.18" width="9.21" height="7.61" fill="#0000f5"/>
<rect x="355.75" y="320.18" width="9.21" height="7.61" fill="#0017ff"/>
<rect x="363.96" y="320.18" width="9.21" height="7.61" fill="#004dff"/>
<rect x="372.17" y="320.18" width="9.21" height="7.61" fill="#0080ff"/>
<rect x="380.38" y="320.18" width="9.21" height="7.61" fill="#00b2ff"/>
<rect x="388.59" y="320.18" width="9.21" height="7.61" fill="#00b2ff"/>
<rect x="396.80" y="320.18" width="9.21" height="7.61" fill="#00b2ff"/>
<rect x="405.01" y="320.18" width="9.21" height="7.61" fill="#009eff"/>
<rect x="413.22" y="320.18" width="9.21" height="7.61" fill="#0094ff"/>
<rect x="421.43" y="320.18" width="9.21" height="7.61" fill="#0080ff"/>
<rect x="429.64" y="320.18" width="9.21" height="7.61" fill="#0061ff"/>
<rect x="437.85" y="320.18" width="9.21" height="7.61" fill="#002bff"/>
<rect x="446.06" y="320.18" width="9.21" height="7.61" fill="#000aff"/>
<rect x="454.27" y="320.18" width="9.21" height="7.61" fill="#0000f5"/>
<rect x="462.48" y="320.18" width="9.21" height="7.61" fill="#0000d6"/>
<rect x="470.69" y="320.18" width="12.21" height="7.61" fill="#0000c2"/>
<rect x="311.70" y="326.79" width="12.21" height="7.61" fill="#0000c2"/>
<rect x="322.91" y="326.79" width="9.21" height="7.61" fill="#0000c2"/>
<rect x="331.12" y="326.79" width="9.21" height="7.61" fill="#0000d6"/>
<rect x="339.33" y="326.79" width="9.21" height="7.61" fill="#0000e0"/>
<rect x="347.54" y="326.79" width="9.21" height="7.61" fill="#0000eb"/>
<rect x="355.75" y="326.79" width="9.21" height="7.61" fill="#000aff"/>
<rect x="363.96" y="326.79" width="9.21" height="7.61" fill="#0017ff"/>
<rect x="372.17" y="326.79" width="9.21" height="7.61" fill="#004dff"/>
<rect x="380.38" y="326.79" width="9.21" height="7.61" fill="#0061ff"/>
<rect x="388.59" y="326.79" width="9.21" height="7.61" fill="#0080ff"/>
<rect x="396.80" y="326.79" width="9.21" height="7.61" fill="#0061ff"/>
<rect x="405.01" y="326.79" width="9.21" height="7.61" fill="#0094ff"/>
<rect x="413.22" y="326.79" width="9.21" height="7.61" fill="#0061ff"/>
<rect x="421.43" y="326.79" width="9.21" height="7.61" fill="#004dff"/>
<rect x="429.64" y="326.79" width="9.21" height="7.61" fill="#0039ff"/>
<rect x="437.85" y="326.79" width="9.21" height="7.61" fill="#0017ff"/>
<rect x="446.06" y="326.79" width="9.21" height="7.61" fill="#0000f5"/>
<rect x="454.27" y="326.79" width="9.21" height="7.61" fill="#0000eb"/>
<rect x="462.48" y="326.79" width="9.21" height="7.61" fill="#0000cc"/>
<rect x="470.69" y="326.79" width="12.21" height="7.61" fill="#0000b8"/>
<rect x="311.70" y="333.39" width="12.21" height="7.61" fill="#0000b8"/>
<rect x="322.91" y="333.39" width="9.21" height="7.61" fill="#0000c2"/>
<rect x="331.12" y="333.39" width="9.21" height="7.61" fill="#0000d6"/>
<rect x="339.33" y="333.39" width="9.21" height="7.61" fill="#0000c2"/>
<rect x="347.54" y="333.39" width="9.21" height="7.61" fill="#0000cc"/>
<rect x="355.75" y="333.39" width="9.21" height="7.61" fill="#0000eb"/>
<rect x="363.96" y="333.39" width="9.21" height="7.61" fill="#000aff"/>
<rect x="372.17" y="333.39" width="9.21" height="7.61" fill="#0039ff"/>
<rect x="380.38" y="333.39" width="9.21" height="7.61" fill="#004dff"/>
<rect x="388.59" y="333.39" width="9.21" height="7.61" fill="#0061ff"/>
<rect x="396.80" y="333.39" width="9.21" height="7.61" fill="#004dff"/>
<rect x="405.01" y="333.39" width="9.21" height="7.61" fill="#004dff"/>
<rect x="413.22" y="333.39" width="9.21" height="7.61" fill="#004dff"/>
<rect x="421.43" y="333.39" width="9.21" height="7.61" fill="#0039ff"/>
<rect x="429.64" y="333.39" width="9.21" height="7.61" fill="#001eff"/>
<rect x="437.85" y="333.39" width="9.21" height="7.61" fill="#000aff"/>
<rect x="446.06" y="333.39" width="9.21" height="7.61" fill="#0000eb"/>
<rect x="454.27" y="333.39" width="9.21" height="7.61" fill="#0000d6"/>
<rect x="462.48" y="333.39" width="9.21" height="7.61" fill="#0000c2"/>
<rect x="470.69" y="333.39" width="12.21" height="7.61" fill="#0000c2"/>
<rect x="311.70" y="340.00" width="12.21" height="10.61" fill="#0000b8"/>
<rect x="322.91" y="340.00" width="9.21" height="10.61" fill="#0000c2"/>
<rect x="331.12" y="340.00" width="9.21" height="10.61" fill="#0000d6"/>
<rect x="339.33" y="340.00" width="9.21" height="10.61" fill="#0000d6"/>
<rect x="347.54" y="340.00" width="9.21" height="10.61" fill="#0000d6"/>
<rect x="355.75" y="340.00" width="9.21" height="10.61" fill="#0000e0"/>
<rect x="363.96" y="340.00" width="9.21" height="10.61" fill="#0000f5"/>
<rect x="372.17" y="340.00" width="9.21" height="10.61" fill="#0017ff"/>
<rect x="380.38" y="340.00" width="9.21" height="10.61" fill="#0025ff"/>
<rect x="388.59" y="340.00" width="9.21" height="10.61" fill="#003fff"/>
<rect x="396.80" y="340.00" width="9.21" height="10.61" fill="#002bff"/>
<rect x="405.01" y="340.00" width="9.21" height="10.61" fill="#002bff"/>
<rect x="413.22" y="340.00" width="9.21" height="10.61" fill="#0025ff"/>
<rect x="421.43" y="340.00" width="9.21" height="10.61" fill="#0017ff"/>
<rect x="429.64" y="340.00" width="9.21" height="10.61" fill="#000aff"/>
<rect x="437.85" y="340.00" width="9.21" height="10.61" fill="#0000f5"/>
<rect x="446.06" y="340.00" width="9.21" height="10.61" fill="#0000eb"/>
<rect x="454.27" y="340.00" width="9.21" height="10.61" fill="#0000e0"/>
<rect x="462.48" y="340.00" width="9.21" height="10.61" fill="#0000cc"/>
<rect x="470.69" y="340.00" width="12.21" height="10.61" fill="#0000c2"/>
</g></g>
<rect x="491.30" y="214.60" width="6.30" height="132.00" fill="url(#cbd)"/>
<text x="311.4" y="219.4" text-anchor="end" style="font-family:'Liberation Sans',sans-serif;font-size:10px" fill="#2c2c2c">5</text>
<text x="311.4" y="285.0" text-anchor="end" style="font-family:'Liberation Sans',sans-serif;font-size:10px" fill="#2c2c2c">0</text>
<text x="311.4" y="351.2" text-anchor="end" style="font-family:'Liberation Sans',sans-serif;font-size:10px" fill="#2c2c2c">-5</text>
<text x="314.9" y="361" text-anchor="middle" style="font-family:'Liberation Sans',sans-serif;font-size:10px" fill="#2c2c2c">-5</text>
<text x="397.4" y="361" text-anchor="middle" style="font-family:'Liberation Sans',sans-serif;font-size:10px" fill="#2c2c2c">0</text>
<text x="479.5" y="361" text-anchor="middle" style="font-family:'Liberation Sans',sans-serif;font-size:10px" fill="#2c2c2c">5</text>
<text x="397.2" y="374.4" text-anchor="middle" style="font-family:'Liberation Sans',sans-serif;font-weight:bold;font-size:11.3px" fill="#111">X Axis [mm]</text>
<text transform="translate(298 280) rotate(-90)" text-anchor="middle" style="font-family:'Liberation Sans',sans-serif;font-weight:bold;font-size:10.8px" fill="#111">Y Axis [mm]</text>
<text x="497.7" y="212.3" style="font-family:'Liberation Sans',sans-serif;font-weight:bold;font-size:10px" fill="#111">[kPa]</text>
<text x="500.3" y="332.7" style="font-family:'Liberation Sans',sans-serif;font-weight:bold;font-size:8.7px" fill="#111">10</text>
<path d="M496 329.6 L497.6 329.6" stroke="#333" stroke-width="0.5"/>
<text x="500.3" y="311.7" style="font-family:'Liberation Sans',sans-serif;font-weight:bold;font-size:8.7px" fill="#111">15</text>
<path d="M496 308.6 L497.6 308.6" stroke="#333" stroke-width="0.5"/>
<text x="500.3" y="290.8" style="font-family:'Liberation Sans',sans-serif;font-weight:bold;font-size:8.7px" fill="#111">20</text>
<path d="M496 287.7 L497.6 287.7" stroke="#333" stroke-width="0.5"/>
<text x="500.3" y="269.9" style="font-family:'Liberation Sans',sans-serif;font-weight:bold;font-size:8.7px" fill="#111">25</text>
<path d="M496 266.8 L497.6 266.8" stroke="#333" stroke-width="0.5"/>
<text x="500.3" y="249.0" style="font-family:'Liberation Sans',sans-serif;font-weight:bold;font-size:8.7px" fill="#111">30</text>
<path d="M496 245.9 L497.6 245.9" stroke="#333" stroke-width="0.5"/>
<text x="500.3" y="228.1" style="font-family:'Liberation Sans',sans-serif;font-weight:bold;font-size:8.7px" fill="#111">35</text>
<path d="M496 225.0 L497.6 225.0" stroke="#333" stroke-width="0.5"/>
</svg>
</body></html>
